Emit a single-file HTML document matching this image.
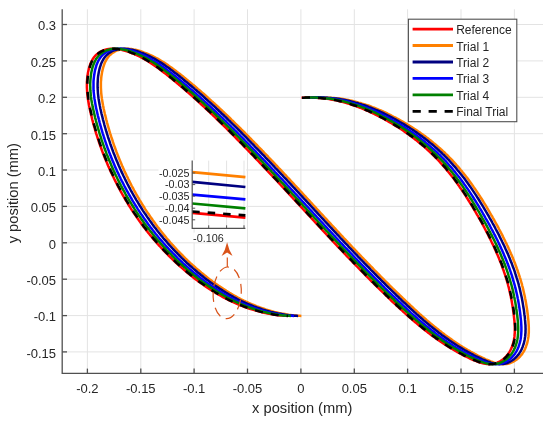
<!DOCTYPE html>
<html><head><meta charset="utf-8"><style>
html,body{margin:0;padding:0;background:#fff;}
svg{display:block;}
text{font-family:"Liberation Sans",Arial,Helvetica,sans-serif;fill:#262626;}
.tl{font-size:13px;}
.lg{font-size:12px;fill:#000;}
.al{font-size:14.67px;}
.it{font-size:10.8px;}
</style></head><body>
<svg width="550" height="422" viewBox="0 0 550 422">
<rect width="550" height="422" fill="#fff"/>
<g stroke="#e3e3e3" stroke-width="1"><line x1="87.4" y1="9.3" x2="87.4" y2="373.4"/><line x1="140.8" y1="9.3" x2="140.8" y2="373.4"/><line x1="194.1" y1="9.3" x2="194.1" y2="373.4"/><line x1="247.5" y1="9.3" x2="247.5" y2="373.4"/><line x1="300.9" y1="9.3" x2="300.9" y2="373.4"/><line x1="354.3" y1="9.3" x2="354.3" y2="373.4"/><line x1="407.6" y1="9.3" x2="407.6" y2="373.4"/><line x1="461.0" y1="9.3" x2="461.0" y2="373.4"/><line x1="514.4" y1="9.3" x2="514.4" y2="373.4"/><line x1="62.2" y1="351.9" x2="543.0" y2="351.9"/><line x1="62.2" y1="315.6" x2="543.0" y2="315.6"/><line x1="62.2" y1="279.2" x2="543.0" y2="279.2"/><line x1="62.2" y1="242.8" x2="543.0" y2="242.8"/><line x1="62.2" y1="206.4" x2="543.0" y2="206.4"/><line x1="62.2" y1="170.0" x2="543.0" y2="170.0"/><line x1="62.2" y1="133.7" x2="543.0" y2="133.7"/><line x1="62.2" y1="97.3" x2="543.0" y2="97.3"/><line x1="62.2" y1="60.9" x2="543.0" y2="60.9"/><line x1="62.2" y1="24.5" x2="543.0" y2="24.5"/></g>
<g><path d="M301.5 97.8 L303.4 97.7 L305.2 97.6 L307.1 97.6 L309.0 97.6 L310.8 97.6 L312.7 97.6 L314.5 97.7 L316.3 97.7 L318.2 97.9 L320.0 98.0 L321.8 98.2 L323.6 98.4 L325.4 98.6 L327.2 98.8 L329.0 99.1 L330.8 99.4 L332.5 99.7 L334.3 100.0 L336.1 100.4 L337.8 100.8 L339.6 101.2 L341.3 101.6 L343.1 102.1 L344.8 102.6 L346.5 103.0 L348.2 103.6 L350.0 104.1 L351.7 104.7 L353.4 105.2 L355.1 105.8 L356.8 106.4 L358.4 107.1 L360.1 107.7 L361.8 108.4 L363.5 109.1 L365.1 109.8 L366.8 110.5 L368.4 111.2 L370.1 112.0 L371.7 112.7 L373.4 113.5 L375.0 114.3 L376.6 115.1 L378.2 116.0 L379.8 116.8 L381.5 117.6 L383.1 118.5 L384.7 119.4 L386.3 120.3 L387.8 121.2 L389.4 122.1 L391.0 123.0 L392.6 123.9 L394.1 124.9 L395.7 125.9 L397.3 126.8 L398.8 127.8 L400.3 128.8 L401.9 129.8 L403.4 130.8 L404.9 131.9 L406.4 132.9 L407.9 134.0 L409.4 135.1 L410.9 136.1 L412.3 137.2 L413.8 138.3 L415.2 139.5 L416.7 140.6 L418.1 141.7 L419.5 142.9 L420.9 144.0 L422.3 145.2 L423.7 146.4 L425.1 147.6 L426.5 148.8 L427.8 150.0 L429.2 151.3 L430.5 152.5 L431.8 153.8 L433.1 155.0 L434.4 156.3 L435.6 157.6 L436.9 158.9 L438.2 160.2 L439.4 161.5 L440.6 162.9 L441.8 164.2 L443.0 165.6 L444.2 166.9 L445.4 168.3 L446.5 169.7 L447.7 171.1 L448.8 172.5 L450.0 173.9 L451.1 175.3 L452.2 176.7 L453.3 178.1 L454.4 179.6 L455.4 181.0 L456.5 182.5 L457.6 184.0 L458.6 185.4 L459.6 186.9 L460.7 188.4 L461.7 189.9 L462.7 191.4 L463.7 192.9 L464.7 194.4 L465.7 195.9 L466.7 197.5 L467.7 199.0 L468.6 200.5 L469.6 202.1 L470.5 203.6 L471.5 205.2 L472.4 206.7 L473.4 208.3 L474.3 209.9 L475.2 211.4 L476.1 213.0 L477.0 214.6 L478.0 216.2 L478.9 217.8 L479.8 219.3 L480.6 220.9 L481.5 222.5 L482.4 224.1 L483.3 225.7 L484.2 227.3 L485.0 229.0 L485.9 230.6 L486.7 232.2 L487.6 233.8 L488.4 235.4 L489.2 237.1 L490.0 238.7 L490.8 240.3 L491.6 242.0 L492.4 243.6 L493.2 245.3 L494.0 246.9 L494.7 248.6 L495.5 250.2 L496.2 251.9 L496.9 253.6 L497.7 255.2 L498.4 256.9 L499.1 258.6 L499.7 260.3 L500.4 262.0 L501.1 263.6 L501.7 265.3 L502.3 267.0 L502.9 268.7 L503.6 270.4 L504.1 272.2 L504.7 273.9 L505.3 275.6 L505.8 277.3 L506.4 279.0 L506.9 280.8 L507.4 282.5 L507.9 284.2 L508.3 286.0 L508.8 287.7 L509.2 289.4 L509.6 291.2 L510.0 293.0 L510.4 294.7 L510.8 296.5 L511.1 298.3 L511.5 300.0 L511.8 301.8 L512.1 303.6 L512.4 305.4 L512.7 307.2 L513.0 309.0 L513.2 310.8 L513.5 312.6 L513.7 314.4 L513.9 316.2 L514.1 318.1 L514.3 319.9 L514.5 321.7 L514.6 323.6 L514.7 325.4 L514.8 327.2 L514.8 329.1 L514.8 330.9 L514.8 332.7 L514.6 334.5 L514.5 336.4 L514.2 338.1 L513.9 339.9 L513.5 341.7 L513.1 343.5 L512.5 345.2 L511.9 346.9 L511.2 348.6 L510.4 350.3 L509.5 351.9 L508.5 353.4 L507.4 354.9 L506.2 356.3 L504.9 357.7 L503.5 358.9 L502.0 360.0 L500.5 361.0 L498.9 361.9 L497.2 362.7 L495.6 363.3 L493.9 363.7 L492.2 364.0 L490.5 364.1 L488.8 364.2 L487.1 364.1 L485.4 363.8 L483.7 363.5 L481.9 363.1 L480.2 362.6 L478.5 362.0 L476.8 361.4 L475.1 360.7 L473.4 360.0 L471.7 359.3 L470.0 358.5 L468.3 357.7 L466.7 356.9 L465.0 356.1 L463.4 355.3 L461.8 354.4 L460.2 353.5 L458.5 352.7 L456.9 351.8 L455.4 350.9 L453.8 350.0 L452.2 349.0 L450.6 348.1 L449.1 347.2 L447.6 346.2 L446.0 345.2 L444.5 344.2 L443.0 343.2 L441.5 342.2 L440.0 341.2 L438.5 340.2 L437.0 339.1 L435.5 338.1 L434.0 337.0 L432.6 336.0 L431.1 334.9 L429.7 333.8 L428.2 332.7 L426.8 331.6 L425.3 330.5 L423.9 329.3 L422.5 328.2 L421.1 327.1 L419.7 325.9 L418.3 324.8 L416.9 323.6 L415.5 322.4 L414.1 321.3 L412.7 320.1 L411.4 318.9 L410.0 317.7 L408.6 316.5 L407.3 315.3 L405.9 314.1 L404.6 312.9 L403.2 311.7 L401.9 310.4 L400.5 309.2 L399.2 308.0 L397.9 306.7 L396.5 305.5 L395.2 304.2 L393.9 303.0 L392.5 301.8 L391.2 300.5 L389.9 299.2 L388.6 298.0 L387.3 296.7 L386.0 295.5 L384.7 294.2 L383.4 292.9 L382.1 291.7 L380.8 290.4 L379.5 289.1 L378.2 287.9 L376.9 286.6 L375.6 285.3 L374.3 284.0 L373.0 282.7 L371.7 281.5 L370.4 280.2 L369.2 278.9 L367.9 277.6 L366.6 276.3 L365.3 275.0 L364.0 273.7 L362.8 272.4 L361.5 271.1 L360.2 269.8 L359.0 268.5 L357.7 267.2 L356.4 265.9 L355.2 264.6 L353.9 263.3 L352.6 262.0 L351.4 260.7 L350.1 259.4 L348.9 258.1 L347.6 256.8 L346.3 255.5 L345.1 254.2 L343.8 252.8 L342.6 251.5 L341.3 250.2 L340.1 248.9 L338.8 247.6 L337.6 246.3 L336.3 244.9 L335.1 243.6 L333.9 242.3 L332.6 241.0 L331.4 239.6 L330.1 238.3 L328.9 237.0 L327.6 235.7 L326.4 234.3 L325.2 233.0 L323.9 231.7 L322.7 230.4 L321.5 229.0 L320.2 227.7 L319.0 226.4 L317.7 225.0 L316.5 223.7 L315.3 222.4 L314.0 221.0 L312.8 219.7 L311.6 218.4 L310.3 217.0 L309.1 215.7 L307.9 214.4 L306.6 213.0 L305.4 211.7 L304.2 210.4 L302.9 209.0 L301.7 207.7 L300.5 206.4 L299.2 205.0 L298.0 203.7 L296.8 202.4 L295.6 201.0 L294.3 199.7 L293.1 198.4 L291.9 197.0 L290.6 195.7 L289.4 194.4 L288.2 193.0 L286.9 191.7 L285.7 190.4 L284.5 189.0 L283.2 187.7 L282.0 186.4 L280.7 185.0 L279.5 183.7 L278.3 182.4 L277.0 181.0 L275.8 179.7 L274.6 178.4 L273.3 177.1 L272.1 175.7 L270.8 174.4 L269.6 173.1 L268.4 171.8 L267.1 170.4 L265.9 169.1 L264.6 167.8 L263.4 166.5 L262.1 165.2 L260.9 163.8 L259.6 162.5 L258.4 161.2 L257.1 159.9 L255.9 158.6 L254.6 157.3 L253.4 155.9 L252.1 154.6 L250.8 153.3 L249.6 152.0 L248.3 150.7 L247.1 149.4 L245.8 148.1 L244.5 146.8 L243.3 145.5 L242.0 144.2 L240.7 142.9 L239.5 141.6 L238.2 140.3 L236.9 139.0 L235.6 137.7 L234.4 136.4 L233.1 135.1 L231.8 133.8 L230.5 132.5 L229.2 131.2 L227.9 130.0 L226.7 128.7 L225.4 127.4 L224.1 126.1 L222.8 124.8 L221.5 123.6 L220.2 122.3 L218.9 121.0 L217.6 119.8 L216.3 118.5 L215.0 117.2 L213.7 116.0 L212.3 114.7 L211.0 113.5 L209.7 112.2 L208.4 111.0 L207.1 109.7 L205.7 108.5 L204.4 107.2 L203.1 106.0 L201.7 104.8 L200.4 103.5 L199.1 102.3 L197.7 101.1 L196.4 99.9 L195.0 98.7 L193.7 97.5 L192.3 96.2 L191.0 95.0 L189.6 93.8 L188.2 92.6 L186.9 91.5 L185.5 90.3 L184.1 89.1 L182.8 87.9 L181.4 86.7 L180.0 85.5 L178.6 84.4 L177.2 83.2 L175.8 82.1 L174.4 80.9 L173.0 79.8 L171.6 78.6 L170.2 77.5 L168.8 76.3 L167.4 75.2 L166.0 74.1 L164.5 73.0 L163.1 71.9 L161.7 70.8 L160.2 69.7 L158.7 68.6 L157.3 67.5 L155.8 66.5 L154.3 65.4 L152.8 64.4 L151.3 63.4 L149.8 62.4 L148.3 61.5 L146.7 60.5 L145.2 59.6 L143.6 58.7 L142.0 57.9 L140.4 57.0 L138.8 56.2 L137.1 55.4 L135.4 54.7 L133.8 53.9 L132.1 53.2 L130.3 52.6 L128.6 51.9 L126.8 51.3 L125.0 50.8 L123.2 50.3 L121.4 49.8 L119.6 49.5 L117.8 49.1 L116.0 48.9 L114.2 48.8 L112.4 48.7 L110.6 48.8 L108.8 49.0 L107.1 49.3 L105.4 49.7 L103.7 50.2 L102.1 50.9 L100.6 51.6 L99.1 52.6 L97.7 53.6 L96.4 54.7 L95.1 55.9 L94.0 57.3 L93.0 58.7 L92.1 60.3 L91.2 61.9 L90.5 63.5 L89.9 65.3 L89.3 67.1 L88.8 68.9 L88.4 70.7 L88.0 72.6 L87.7 74.5 L87.4 76.3 L87.2 78.2 L87.1 80.1 L86.9 81.9 L86.9 83.8 L86.9 85.6 L86.9 87.4 L87.0 89.2 L87.1 91.0 L87.2 92.8 L87.4 94.6 L87.6 96.4 L87.8 98.2 L88.1 100.0 L88.4 101.8 L88.7 103.5 L89.0 105.3 L89.4 107.1 L89.7 108.8 L90.1 110.6 L90.5 112.3 L90.9 114.1 L91.4 115.8 L91.8 117.6 L92.2 119.3 L92.7 121.1 L93.1 122.8 L93.6 124.6 L94.1 126.3 L94.6 128.0 L95.1 129.8 L95.6 131.5 L96.1 133.3 L96.7 135.0 L97.2 136.7 L97.8 138.5 L98.4 140.2 L98.9 141.9 L99.5 143.6 L100.1 145.3 L100.7 147.1 L101.4 148.8 L102.0 150.5 L102.6 152.2 L103.3 153.9 L103.9 155.6 L104.6 157.3 L105.3 159.0 L106.0 160.7 L106.7 162.3 L107.4 164.0 L108.1 165.7 L108.9 167.4 L109.6 169.0 L110.3 170.7 L111.1 172.4 L111.9 174.0 L112.7 175.7 L113.5 177.3 L114.3 179.0 L115.1 180.6 L115.9 182.2 L116.7 183.8 L117.5 185.5 L118.4 187.1 L119.3 188.7 L120.1 190.3 L121.0 191.9 L121.9 193.5 L122.8 195.1 L123.7 196.7 L124.6 198.2 L125.5 199.8 L126.5 201.4 L127.4 202.9 L128.3 204.5 L129.3 206.0 L130.3 207.5 L131.2 209.1 L132.2 210.6 L133.2 212.1 L134.2 213.6 L135.3 215.1 L136.3 216.6 L137.3 218.1 L138.4 219.6 L139.4 221.1 L140.5 222.5 L141.5 224.0 L142.6 225.4 L143.7 226.9 L144.8 228.3 L145.9 229.8 L147.0 231.2 L148.1 232.6 L149.3 234.0 L150.4 235.4 L151.6 236.8 L152.7 238.2 L153.9 239.6 L155.1 240.9 L156.2 242.3 L157.4 243.7 L158.6 245.0 L159.9 246.3 L161.1 247.7 L162.3 249.0 L163.5 250.3 L164.8 251.6 L166.0 252.9 L167.3 254.2 L168.6 255.5 L169.9 256.8 L171.2 258.1 L172.5 259.3 L173.8 260.6 L175.1 261.8 L176.4 263.1 L177.8 264.3 L179.1 265.5 L180.5 266.7 L181.8 267.9 L183.2 269.1 L184.6 270.3 L186.0 271.5 L187.4 272.7 L188.8 273.8 L190.2 275.0 L191.6 276.1 L193.0 277.2 L194.5 278.4 L195.9 279.5 L197.4 280.6 L198.8 281.7 L200.3 282.7 L201.8 283.8 L203.3 284.8 L204.8 285.9 L206.3 286.9 L207.8 287.9 L209.3 288.9 L210.9 289.9 L212.4 290.9 L214.0 291.8 L215.5 292.8 L217.1 293.7 L218.6 294.6 L220.2 295.5 L221.8 296.4 L223.4 297.3 L225.0 298.1 L226.6 299.0 L228.2 299.8 L229.8 300.6 L231.5 301.4 L233.1 302.1 L234.8 302.9 L236.4 303.6 L238.1 304.3 L239.7 305.0 L241.4 305.7 L243.1 306.4 L244.8 307.0 L246.5 307.6 L248.2 308.2 L249.9 308.8 L251.6 309.4 L253.4 309.9 L255.1 310.4 L256.8 310.9 L258.6 311.4 L260.3 311.9 L262.1 312.3 L263.8 312.7 L265.6 313.1 L267.4 313.5 L269.2 313.8 L271.0 314.1 L272.8 314.4 L274.6 314.7 L276.4 314.9 L278.2 315.2 L280.0 315.4 L281.9 315.5 L283.7 315.7 L285.6 315.8 L287.4 315.9" stroke="#ff0000" stroke-width="2.5" fill="none" stroke-linejoin="round"/>
<path d="M315.5 97.8 L317.4 97.7 L319.2 97.6 L321.1 97.6 L323.0 97.6 L324.8 97.6 L326.7 97.6 L328.5 97.7 L330.3 97.7 L332.2 97.9 L334.0 98.0 L335.8 98.2 L337.6 98.4 L339.4 98.6 L341.2 98.8 L343.0 99.1 L344.8 99.4 L346.5 99.7 L348.3 100.0 L350.1 100.4 L351.8 100.8 L353.6 101.2 L355.3 101.6 L357.1 102.1 L358.8 102.6 L360.5 103.0 L362.2 103.6 L364.0 104.1 L365.7 104.7 L367.4 105.2 L369.1 105.8 L370.8 106.4 L372.4 107.1 L374.1 107.7 L375.8 108.4 L377.5 109.1 L379.1 109.8 L380.8 110.5 L382.4 111.2 L384.1 112.0 L385.7 112.7 L387.4 113.5 L389.0 114.3 L390.6 115.1 L392.2 116.0 L393.8 116.8 L395.5 117.6 L397.1 118.5 L398.7 119.4 L400.3 120.3 L401.8 121.2 L403.4 122.1 L405.0 123.0 L406.6 123.9 L408.1 124.9 L409.7 125.9 L411.3 126.8 L412.8 127.8 L414.3 128.8 L415.9 129.8 L417.4 130.8 L418.9 131.9 L420.4 132.9 L421.9 134.0 L423.4 135.1 L424.9 136.1 L426.3 137.2 L427.8 138.3 L429.2 139.5 L430.7 140.6 L432.1 141.7 L433.5 142.9 L434.9 144.0 L436.3 145.2 L437.7 146.4 L439.1 147.6 L440.5 148.8 L441.8 150.0 L443.2 151.3 L444.5 152.5 L445.8 153.8 L447.1 155.0 L448.4 156.3 L449.6 157.6 L450.9 158.9 L452.2 160.2 L453.4 161.5 L454.6 162.9 L455.8 164.2 L457.0 165.6 L458.2 166.9 L459.4 168.3 L460.5 169.7 L461.7 171.1 L462.8 172.5 L464.0 173.9 L465.1 175.3 L466.2 176.7 L467.3 178.1 L468.4 179.6 L469.4 181.0 L470.5 182.5 L471.6 184.0 L472.6 185.4 L473.6 186.9 L474.7 188.4 L475.7 189.9 L476.7 191.4 L477.7 192.9 L478.7 194.4 L479.7 195.9 L480.7 197.5 L481.7 199.0 L482.6 200.5 L483.6 202.1 L484.5 203.6 L485.5 205.2 L486.4 206.7 L487.4 208.3 L488.3 209.9 L489.2 211.4 L490.1 213.0 L491.0 214.6 L492.0 216.2 L492.9 217.8 L493.8 219.3 L494.6 220.9 L495.5 222.5 L496.4 224.1 L497.3 225.7 L498.2 227.3 L499.0 229.0 L499.9 230.6 L500.7 232.2 L501.6 233.8 L502.4 235.4 L503.2 237.1 L504.0 238.7 L504.8 240.3 L505.6 242.0 L506.4 243.6 L507.2 245.3 L508.0 246.9 L508.7 248.6 L509.5 250.2 L510.2 251.9 L510.9 253.6 L511.7 255.2 L512.4 256.9 L513.1 258.6 L513.7 260.3 L514.4 262.0 L515.1 263.6 L515.7 265.3 L516.3 267.0 L516.9 268.7 L517.6 270.4 L518.1 272.2 L518.7 273.9 L519.3 275.6 L519.8 277.3 L520.4 279.0 L520.9 280.8 L521.4 282.5 L521.9 284.2 L522.3 286.0 L522.8 287.7 L523.2 289.4 L523.6 291.2 L524.0 293.0 L524.4 294.7 L524.8 296.5 L525.1 298.3 L525.5 300.0 L525.8 301.8 L526.1 303.6 L526.4 305.4 L526.7 307.2 L527.0 309.0 L527.2 310.8 L527.5 312.6 L527.7 314.4 L527.9 316.2 L528.1 318.1 L528.3 319.9 L528.5 321.7 L528.6 323.6 L528.7 325.4 L528.8 327.2 L528.8 329.1 L528.8 330.9 L528.8 332.7 L528.6 334.5 L528.5 336.4 L528.2 338.1 L527.9 339.9 L527.5 341.7 L527.1 343.5 L526.5 345.2 L525.9 346.9 L525.2 348.6 L524.4 350.3 L523.5 351.9 L522.5 353.4 L521.4 354.9 L520.2 356.3 L518.9 357.7 L517.5 358.9 L516.0 360.0 L514.5 361.0 L512.9 361.9 L511.2 362.7 L509.6 363.3 L507.9 363.7 L506.2 364.0 L504.5 364.1 L502.8 364.2 L501.1 364.1 L499.4 363.8 L497.7 363.5 L495.9 363.1 L494.2 362.6 L492.5 362.0 L490.8 361.4 L489.1 360.7 L487.4 360.0 L485.7 359.3 L484.0 358.5 L482.3 357.7 L480.7 356.9 L479.0 356.1 L477.4 355.3 L475.8 354.4 L474.2 353.5 L472.5 352.7 L470.9 351.8 L469.4 350.9 L467.8 350.0 L466.2 349.0 L464.6 348.1 L463.1 347.2 L461.6 346.2 L460.0 345.2 L458.5 344.2 L457.0 343.2 L455.5 342.2 L454.0 341.2 L452.5 340.2 L451.0 339.1 L449.5 338.1 L448.0 337.0 L446.6 336.0 L445.1 334.9 L443.7 333.8 L442.2 332.7 L440.8 331.6 L439.3 330.5 L437.9 329.3 L436.5 328.2 L435.1 327.1 L433.7 325.9 L432.3 324.8 L430.9 323.6 L429.5 322.4 L428.1 321.3 L426.7 320.1 L425.4 318.9 L424.0 317.7 L422.6 316.5 L421.3 315.3 L419.9 314.1 L418.6 312.9 L417.2 311.7 L415.9 310.4 L414.5 309.2 L413.2 308.0 L411.9 306.7 L410.5 305.5 L409.2 304.2 L407.9 303.0 L406.5 301.8 L405.2 300.5 L403.9 299.2 L402.6 298.0 L401.3 296.7 L400.0 295.5 L398.7 294.2 L397.4 292.9 L396.1 291.7 L394.8 290.4 L393.5 289.1 L392.2 287.9 L390.9 286.6 L389.6 285.3 L388.3 284.0 L387.0 282.7 L385.7 281.5 L384.4 280.2 L383.2 278.9 L381.9 277.6 L380.6 276.3 L379.3 275.0 L378.0 273.7 L376.8 272.4 L375.5 271.1 L374.2 269.8 L373.0 268.5 L371.7 267.2 L370.4 265.9 L369.2 264.6 L367.9 263.3 L366.6 262.0 L365.4 260.7 L364.1 259.4 L362.9 258.1 L361.6 256.8 L360.3 255.5 L359.1 254.2 L357.8 252.8 L356.6 251.5 L355.3 250.2 L354.1 248.9 L352.8 247.6 L351.6 246.3 L350.3 244.9 L349.1 243.6 L347.9 242.3 L346.6 241.0 L345.4 239.6 L344.1 238.3 L342.9 237.0 L341.6 235.7 L340.4 234.3 L339.2 233.0 L337.9 231.7 L336.7 230.4 L335.5 229.0 L334.2 227.7 L333.0 226.4 L331.7 225.0 L330.5 223.7 L329.3 222.4 L328.0 221.0 L326.8 219.7 L325.6 218.4 L324.3 217.0 L323.1 215.7 L321.9 214.4 L320.6 213.0 L319.4 211.7 L318.2 210.4 L316.9 209.0 L315.7 207.7 L314.5 206.4 L313.2 205.0 L312.0 203.7 L310.8 202.4 L309.6 201.0 L308.3 199.7 L307.1 198.4 L305.9 197.0 L304.6 195.7 L303.4 194.4 L302.2 193.0 L300.9 191.7 L299.7 190.4 L298.5 189.0 L297.2 187.7 L296.0 186.4 L294.7 185.0 L293.5 183.7 L292.3 182.4 L291.0 181.0 L289.8 179.7 L288.6 178.4 L287.3 177.1 L286.1 175.7 L284.8 174.4 L283.6 173.1 L282.4 171.8 L281.1 170.4 L279.9 169.1 L278.6 167.8 L277.4 166.5 L276.1 165.2 L274.9 163.8 L273.6 162.5 L272.4 161.2 L271.1 159.9 L269.9 158.6 L268.6 157.3 L267.4 155.9 L266.1 154.6 L264.8 153.3 L263.6 152.0 L262.3 150.7 L261.1 149.4 L259.8 148.1 L258.5 146.8 L257.3 145.5 L256.0 144.2 L254.7 142.9 L253.5 141.6 L252.2 140.3 L250.9 139.0 L249.6 137.7 L248.4 136.4 L247.1 135.1 L245.8 133.8 L244.5 132.5 L243.2 131.2 L241.9 130.0 L240.7 128.7 L239.4 127.4 L238.1 126.1 L236.8 124.8 L235.5 123.6 L234.2 122.3 L232.9 121.0 L231.6 119.8 L230.3 118.5 L229.0 117.2 L227.7 116.0 L226.3 114.7 L225.0 113.5 L223.7 112.2 L222.4 111.0 L221.1 109.7 L219.7 108.5 L218.4 107.2 L217.1 106.0 L215.7 104.8 L214.4 103.5 L213.1 102.3 L211.7 101.1 L210.4 99.9 L209.0 98.7 L207.7 97.5 L206.3 96.2 L205.0 95.0 L203.6 93.8 L202.2 92.6 L200.9 91.5 L199.5 90.3 L198.1 89.1 L196.8 87.9 L195.4 86.7 L194.0 85.5 L192.6 84.4 L191.2 83.2 L189.8 82.1 L188.4 80.9 L187.0 79.8 L185.6 78.6 L184.2 77.5 L182.8 76.3 L181.4 75.2 L180.0 74.1 L178.5 73.0 L177.1 71.9 L175.7 70.8 L174.2 69.7 L172.7 68.6 L171.3 67.5 L169.8 66.5 L168.3 65.4 L166.8 64.4 L165.3 63.4 L163.8 62.4 L162.3 61.5 L160.7 60.5 L159.2 59.6 L157.6 58.7 L156.0 57.9 L154.4 57.0 L152.8 56.2 L151.1 55.4 L149.4 54.7 L147.8 53.9 L146.1 53.2 L144.3 52.6 L142.6 51.9 L140.8 51.3 L139.0 50.8 L137.2 50.3 L135.4 49.8 L133.6 49.5 L131.8 49.1 L130.0 48.9 L128.2 48.8 L126.4 48.7 L124.6 48.8 L122.8 49.0 L121.1 49.3 L119.4 49.7 L117.7 50.2 L116.1 50.9 L114.6 51.6 L113.1 52.6 L111.7 53.6 L110.4 54.7 L109.1 55.9 L108.0 57.3 L107.0 58.7 L106.1 60.3 L105.2 61.9 L104.5 63.5 L103.9 65.3 L103.3 67.1 L102.8 68.9 L102.4 70.7 L102.0 72.6 L101.7 74.5 L101.4 76.3 L101.2 78.2 L101.1 80.1 L100.9 81.9 L100.9 83.8 L100.9 85.6 L100.9 87.4 L101.0 89.2 L101.1 91.0 L101.2 92.8 L101.4 94.6 L101.6 96.4 L101.8 98.2 L102.1 100.0 L102.4 101.8 L102.7 103.5 L103.0 105.3 L103.4 107.1 L103.7 108.8 L104.1 110.6 L104.5 112.3 L104.9 114.1 L105.4 115.8 L105.8 117.6 L106.2 119.3 L106.7 121.1 L107.1 122.8 L107.6 124.6 L108.1 126.3 L108.6 128.0 L109.1 129.8 L109.6 131.5 L110.1 133.3 L110.7 135.0 L111.2 136.7 L111.8 138.5 L112.4 140.2 L112.9 141.9 L113.5 143.6 L114.1 145.3 L114.7 147.1 L115.4 148.8 L116.0 150.5 L116.6 152.2 L117.3 153.9 L117.9 155.6 L118.6 157.3 L119.3 159.0 L120.0 160.7 L120.7 162.3 L121.4 164.0 L122.1 165.7 L122.9 167.4 L123.6 169.0 L124.3 170.7 L125.1 172.4 L125.9 174.0 L126.7 175.7 L127.5 177.3 L128.3 179.0 L129.1 180.6 L129.9 182.2 L130.7 183.8 L131.5 185.5 L132.4 187.1 L133.3 188.7 L134.1 190.3 L135.0 191.9 L135.9 193.5 L136.8 195.1 L137.7 196.7 L138.6 198.2 L139.5 199.8 L140.5 201.4 L141.4 202.9 L142.3 204.5 L143.3 206.0 L144.3 207.5 L145.2 209.1 L146.2 210.6 L147.2 212.1 L148.2 213.6 L149.3 215.1 L150.3 216.6 L151.3 218.1 L152.4 219.6 L153.4 221.1 L154.5 222.5 L155.5 224.0 L156.6 225.4 L157.7 226.9 L158.8 228.3 L159.9 229.8 L161.0 231.2 L162.1 232.6 L163.3 234.0 L164.4 235.4 L165.6 236.8 L166.7 238.2 L167.9 239.6 L169.1 240.9 L170.2 242.3 L171.4 243.7 L172.6 245.0 L173.9 246.3 L175.1 247.7 L176.3 249.0 L177.5 250.3 L178.8 251.6 L180.0 252.9 L181.3 254.2 L182.6 255.5 L183.9 256.8 L185.2 258.1 L186.5 259.3 L187.8 260.6 L189.1 261.8 L190.4 263.1 L191.8 264.3 L193.1 265.5 L194.5 266.7 L195.8 267.9 L197.2 269.1 L198.6 270.3 L200.0 271.5 L201.4 272.7 L202.8 273.8 L204.2 275.0 L205.6 276.1 L207.0 277.2 L208.5 278.4 L209.9 279.5 L211.4 280.6 L212.8 281.7 L214.3 282.7 L215.8 283.8 L217.3 284.8 L218.8 285.9 L220.3 286.9 L221.8 287.9 L223.3 288.9 L224.9 289.9 L226.4 290.9 L228.0 291.8 L229.5 292.8 L231.1 293.7 L232.6 294.6 L234.2 295.5 L235.8 296.4 L237.4 297.3 L239.0 298.1 L240.6 299.0 L242.2 299.8 L243.8 300.6 L245.5 301.4 L247.1 302.1 L248.8 302.9 L250.4 303.6 L252.1 304.3 L253.7 305.0 L255.4 305.7 L257.1 306.4 L258.8 307.0 L260.5 307.6 L262.2 308.2 L263.9 308.8 L265.6 309.4 L267.4 309.9 L269.1 310.4 L270.8 310.9 L272.6 311.4 L274.3 311.9 L276.1 312.3 L277.8 312.7 L279.6 313.1 L281.4 313.5 L283.2 313.8 L285.0 314.1 L286.8 314.4 L288.6 314.7 L290.4 314.9 L292.2 315.2 L294.0 315.4 L295.9 315.5 L297.7 315.7 L299.6 315.8 L301.4 315.9" stroke="#ff8000" stroke-width="2.5" fill="none" stroke-linejoin="round"/>
<path d="M312.2 97.8 L314.1 97.7 L316.0 97.6 L317.8 97.6 L319.7 97.6 L321.5 97.6 L323.4 97.6 L325.2 97.7 L327.1 97.7 L328.9 97.9 L330.7 98.0 L332.5 98.2 L334.3 98.4 L336.1 98.6 L337.9 98.8 L339.7 99.1 L341.5 99.4 L343.3 99.7 L345.0 100.0 L346.8 100.4 L348.5 100.8 L350.3 101.2 L352.0 101.6 L353.8 102.1 L355.5 102.6 L357.2 103.0 L359.0 103.6 L360.7 104.1 L362.4 104.7 L364.1 105.2 L365.8 105.8 L367.5 106.4 L369.1 107.1 L370.8 107.7 L372.5 108.4 L374.2 109.1 L375.8 109.8 L377.5 110.5 L379.1 111.2 L380.8 112.0 L382.4 112.7 L384.1 113.5 L385.7 114.3 L387.3 115.1 L388.9 116.0 L390.6 116.8 L392.2 117.6 L393.8 118.5 L395.4 119.4 L397.0 120.3 L398.6 121.2 L400.1 122.1 L401.7 123.0 L403.3 123.9 L404.9 124.9 L406.4 125.9 L408.0 126.8 L409.5 127.8 L411.0 128.8 L412.6 129.8 L414.1 130.8 L415.6 131.9 L417.1 132.9 L418.6 134.0 L420.1 135.1 L421.6 136.1 L423.0 137.2 L424.5 138.3 L426.0 139.5 L427.4 140.6 L428.8 141.7 L430.2 142.9 L431.7 144.0 L433.1 145.2 L434.4 146.4 L435.8 147.6 L437.2 148.8 L438.5 150.0 L439.9 151.3 L441.2 152.5 L442.5 153.8 L443.8 155.0 L445.1 156.3 L446.4 157.6 L447.6 158.9 L448.9 160.2 L450.1 161.5 L451.3 162.9 L452.5 164.2 L453.7 165.6 L454.9 166.9 L456.1 168.3 L457.2 169.7 L458.4 171.1 L459.5 172.5 L460.7 173.9 L461.8 175.3 L462.9 176.7 L464.0 178.1 L465.1 179.6 L466.1 181.0 L467.2 182.5 L468.3 184.0 L469.3 185.4 L470.4 186.9 L471.4 188.4 L472.4 189.9 L473.4 191.4 L474.4 192.9 L475.4 194.4 L476.4 195.9 L477.4 197.5 L478.4 199.0 L479.3 200.5 L480.3 202.1 L481.2 203.6 L482.2 205.2 L483.1 206.7 L484.1 208.3 L485.0 209.9 L485.9 211.4 L486.8 213.0 L487.8 214.6 L488.7 216.2 L489.6 217.8 L490.5 219.3 L491.4 220.9 L492.2 222.5 L493.1 224.1 L494.0 225.7 L494.9 227.3 L495.7 229.0 L496.6 230.6 L497.4 232.2 L498.3 233.8 L499.1 235.4 L499.9 237.1 L500.7 238.7 L501.5 240.3 L502.3 242.0 L503.1 243.6 L503.9 245.3 L504.7 246.9 L505.4 248.6 L506.2 250.2 L506.9 251.9 L507.7 253.6 L508.4 255.2 L509.1 256.9 L509.8 258.6 L510.4 260.3 L511.1 262.0 L511.8 263.6 L512.4 265.3 L513.0 267.0 L513.7 268.7 L514.3 270.4 L514.9 272.2 L515.4 273.9 L516.0 275.6 L516.5 277.3 L517.1 279.0 L517.6 280.8 L518.1 282.5 L518.6 284.2 L519.0 286.0 L519.5 287.7 L519.9 289.4 L520.3 291.2 L520.7 293.0 L521.1 294.7 L521.5 296.5 L521.9 298.3 L522.2 300.0 L522.5 301.8 L522.8 303.6 L523.1 305.4 L523.4 307.2 L523.7 309.0 L524.0 310.8 L524.2 312.6 L524.4 314.4 L524.7 316.2 L524.9 318.1 L525.0 319.9 L525.2 321.7 L525.3 323.6 L525.5 325.4 L525.5 327.2 L525.6 329.1 L525.5 330.9 L525.5 332.7 L525.3 334.5 L525.2 336.4 L524.9 338.1 L524.6 339.9 L524.2 341.7 L523.8 343.5 L523.2 345.2 L522.6 346.9 L521.9 348.6 L521.1 350.3 L520.2 351.9 L519.2 353.4 L518.1 354.9 L516.9 356.3 L515.6 357.7 L514.2 358.9 L512.7 360.0 L511.2 361.0 L509.6 361.9 L508.0 362.7 L506.3 363.3 L504.6 363.7 L502.9 364.0 L501.2 364.1 L499.5 364.2 L497.8 364.1 L496.1 363.8 L494.4 363.5 L492.6 363.1 L490.9 362.6 L489.2 362.0 L487.5 361.4 L485.8 360.7 L484.1 360.0 L482.4 359.3 L480.7 358.5 L479.1 357.7 L477.4 356.9 L475.7 356.1 L474.1 355.3 L472.5 354.4 L470.9 353.5 L469.3 352.7 L467.7 351.8 L466.1 350.9 L464.5 350.0 L462.9 349.0 L461.4 348.1 L459.8 347.2 L458.3 346.2 L456.7 345.2 L455.2 344.2 L453.7 343.2 L452.2 342.2 L450.7 341.2 L449.2 340.2 L447.7 339.1 L446.2 338.1 L444.7 337.0 L443.3 336.0 L441.8 334.9 L440.4 333.8 L438.9 332.7 L437.5 331.6 L436.1 330.5 L434.6 329.3 L433.2 328.2 L431.8 327.1 L430.4 325.9 L429.0 324.8 L427.6 323.6 L426.2 322.4 L424.8 321.3 L423.4 320.1 L422.1 318.9 L420.7 317.7 L419.3 316.5 L418.0 315.3 L416.6 314.1 L415.3 312.9 L413.9 311.7 L412.6 310.4 L411.2 309.2 L409.9 308.0 L408.6 306.7 L407.2 305.5 L405.9 304.2 L404.6 303.0 L403.3 301.8 L401.9 300.5 L400.6 299.2 L399.3 298.0 L398.0 296.7 L396.7 295.5 L395.4 294.2 L394.1 292.9 L392.8 291.7 L391.5 290.4 L390.2 289.1 L388.9 287.9 L387.6 286.6 L386.3 285.3 L385.0 284.0 L383.7 282.7 L382.4 281.5 L381.1 280.2 L379.9 278.9 L378.6 277.6 L377.3 276.3 L376.0 275.0 L374.7 273.7 L373.5 272.4 L372.2 271.1 L370.9 269.8 L369.7 268.5 L368.4 267.2 L367.1 265.9 L365.9 264.6 L364.6 263.3 L363.3 262.0 L362.1 260.7 L360.8 259.4 L359.6 258.1 L358.3 256.8 L357.1 255.5 L355.8 254.2 L354.5 252.8 L353.3 251.5 L352.0 250.2 L350.8 248.9 L349.5 247.6 L348.3 246.3 L347.1 244.9 L345.8 243.6 L344.6 242.3 L343.3 241.0 L342.1 239.6 L340.8 238.3 L339.6 237.0 L338.4 235.7 L337.1 234.3 L335.9 233.0 L334.6 231.7 L333.4 230.4 L332.2 229.0 L330.9 227.7 L329.7 226.4 L328.5 225.0 L327.2 223.7 L326.0 222.4 L324.7 221.0 L323.5 219.7 L322.3 218.4 L321.0 217.0 L319.8 215.7 L318.6 214.4 L317.4 213.0 L316.1 211.7 L314.9 210.4 L313.7 209.0 L312.4 207.7 L311.2 206.4 L310.0 205.0 L308.7 203.7 L307.5 202.4 L306.3 201.0 L305.0 199.7 L303.8 198.4 L302.6 197.0 L301.3 195.7 L300.1 194.4 L298.9 193.0 L297.6 191.7 L296.4 190.4 L295.2 189.0 L293.9 187.7 L292.7 186.4 L291.5 185.0 L290.2 183.7 L289.0 182.4 L287.7 181.0 L286.5 179.7 L285.3 178.4 L284.0 177.1 L282.8 175.7 L281.5 174.4 L280.3 173.1 L279.1 171.8 L277.8 170.4 L276.6 169.1 L275.3 167.8 L274.1 166.5 L272.8 165.2 L271.6 163.8 L270.3 162.5 L269.1 161.2 L267.8 159.9 L266.6 158.6 L265.3 157.3 L264.1 155.9 L262.8 154.6 L261.6 153.3 L260.3 152.0 L259.0 150.7 L257.8 149.4 L256.5 148.1 L255.2 146.8 L254.0 145.5 L252.7 144.2 L251.4 142.9 L250.2 141.6 L248.9 140.3 L247.6 139.0 L246.4 137.7 L245.1 136.4 L243.8 135.1 L242.5 133.8 L241.2 132.5 L239.9 131.2 L238.7 130.0 L237.4 128.7 L236.1 127.4 L234.8 126.1 L233.5 124.8 L232.2 123.6 L230.9 122.3 L229.6 121.0 L228.3 119.8 L227.0 118.5 L225.7 117.2 L224.4 116.0 L223.1 114.7 L221.7 113.5 L220.4 112.2 L219.1 111.0 L217.8 109.7 L216.4 108.5 L215.1 107.2 L213.8 106.0 L212.5 104.8 L211.1 103.5 L209.8 102.3 L208.4 101.1 L207.1 99.9 L205.7 98.7 L204.4 97.5 L203.0 96.2 L201.7 95.0 L200.3 93.8 L199.0 92.6 L197.6 91.5 L196.2 90.3 L194.8 89.1 L193.5 87.9 L192.1 86.7 L190.7 85.5 L189.3 84.4 L187.9 83.2 L186.5 82.1 L185.1 80.9 L183.7 79.8 L182.3 78.6 L180.9 77.5 L179.5 76.3 L178.1 75.2 L176.7 74.1 L175.2 73.0 L173.8 71.9 L172.4 70.8 L170.9 69.7 L169.5 68.6 L168.0 67.5 L166.5 66.5 L165.0 65.4 L163.5 64.4 L162.0 63.4 L160.5 62.4 L159.0 61.5 L157.4 60.5 L155.9 59.6 L154.3 58.7 L152.7 57.9 L151.1 57.0 L149.5 56.2 L147.8 55.4 L146.2 54.7 L144.5 53.9 L142.8 53.2 L141.0 52.6 L139.3 51.9 L137.5 51.3 L135.7 50.8 L133.9 50.3 L132.1 49.8 L130.3 49.5 L128.5 49.1 L126.7 48.9 L124.9 48.8 L123.1 48.7 L121.3 48.8 L119.5 49.0 L117.8 49.3 L116.1 49.7 L114.5 50.2 L112.8 50.9 L111.3 51.6 L109.8 52.6 L108.4 53.6 L107.1 54.7 L105.8 55.9 L104.7 57.3 L103.7 58.7 L102.8 60.3 L102.0 61.9 L101.2 63.5 L100.6 65.3 L100.0 67.1 L99.5 68.9 L99.1 70.7 L98.7 72.6 L98.4 74.5 L98.1 76.3 L97.9 78.2 L97.8 80.1 L97.7 81.9 L97.6 83.8 L97.6 85.6 L97.6 87.4 L97.7 89.2 L97.8 91.0 L97.9 92.8 L98.1 94.6 L98.3 96.4 L98.5 98.2 L98.8 100.0 L99.1 101.8 L99.4 103.5 L99.7 105.3 L100.1 107.1 L100.4 108.8 L100.8 110.6 L101.2 112.3 L101.6 114.1 L102.1 115.8 L102.5 117.6 L102.9 119.3 L103.4 121.1 L103.9 122.8 L104.3 124.6 L104.8 126.3 L105.3 128.0 L105.8 129.8 L106.3 131.5 L106.9 133.3 L107.4 135.0 L107.9 136.7 L108.5 138.5 L109.1 140.2 L109.7 141.9 L110.2 143.6 L110.8 145.3 L111.5 147.1 L112.1 148.8 L112.7 150.5 L113.3 152.2 L114.0 153.9 L114.7 155.6 L115.3 157.3 L116.0 159.0 L116.7 160.7 L117.4 162.3 L118.1 164.0 L118.8 165.7 L119.6 167.4 L120.3 169.0 L121.1 170.7 L121.8 172.4 L122.6 174.0 L123.4 175.7 L124.2 177.3 L125.0 179.0 L125.8 180.6 L126.6 182.2 L127.4 183.8 L128.3 185.5 L129.1 187.1 L130.0 188.7 L130.8 190.3 L131.7 191.9 L132.6 193.5 L133.5 195.1 L134.4 196.7 L135.3 198.2 L136.2 199.8 L137.2 201.4 L138.1 202.9 L139.1 204.5 L140.0 206.0 L141.0 207.5 L142.0 209.1 L142.9 210.6 L143.9 212.1 L144.9 213.6 L146.0 215.1 L147.0 216.6 L148.0 218.1 L149.1 219.6 L150.1 221.1 L151.2 222.5 L152.2 224.0 L153.3 225.4 L154.4 226.9 L155.5 228.3 L156.6 229.8 L157.7 231.2 L158.8 232.6 L160.0 234.0 L161.1 235.4 L162.3 236.8 L163.4 238.2 L164.6 239.6 L165.8 240.9 L167.0 242.3 L168.1 243.7 L169.4 245.0 L170.6 246.3 L171.8 247.7 L173.0 249.0 L174.3 250.3 L175.5 251.6 L176.8 252.9 L178.0 254.2 L179.3 255.5 L180.6 256.8 L181.9 258.1 L183.2 259.3 L184.5 260.6 L185.8 261.8 L187.1 263.1 L188.5 264.3 L189.8 265.5 L191.2 266.7 L192.5 267.9 L193.9 269.1 L195.3 270.3 L196.7 271.5 L198.1 272.7 L199.5 273.8 L200.9 275.0 L202.3 276.1 L203.7 277.2 L205.2 278.4 L206.6 279.5 L208.1 280.6 L209.6 281.7 L211.0 282.7 L212.5 283.8 L214.0 284.8 L215.5 285.9 L217.0 286.9 L218.5 287.9 L220.0 288.9 L221.6 289.9 L223.1 290.9 L224.7 291.8 L226.2 292.8 L227.8 293.7 L229.3 294.6 L230.9 295.5 L232.5 296.4 L234.1 297.3 L235.7 298.1 L237.3 299.0 L238.9 299.8 L240.6 300.6 L242.2 301.4 L243.8 302.1 L245.5 302.9 L247.1 303.6 L248.8 304.3 L250.5 305.0 L252.1 305.7 L253.8 306.4 L255.5 307.0 L257.2 307.6 L258.9 308.2 L260.6 308.8 L262.3 309.4 L264.1 309.9 L265.8 310.4 L267.5 310.9 L269.3 311.4 L271.0 311.9 L272.8 312.3 L274.6 312.7 L276.3 313.1 L278.1 313.5 L279.9 313.8 L281.7 314.1 L283.5 314.4 L285.3 314.7 L287.1 314.9 L288.9 315.2 L290.8 315.4 L292.6 315.5 L294.4 315.7 L296.3 315.8 L298.1 315.9" stroke="#000080" stroke-width="2.5" fill="none" stroke-linejoin="round"/>
<path d="M308.1 97.8 L309.9 97.7 L311.8 97.6 L313.7 97.6 L315.6 97.6 L317.4 97.6 L319.3 97.6 L321.1 97.7 L322.9 97.7 L324.8 97.9 L326.6 98.0 L328.4 98.2 L330.2 98.4 L332.0 98.6 L333.8 98.8 L335.6 99.1 L337.4 99.4 L339.1 99.7 L340.9 100.0 L342.7 100.4 L344.4 100.8 L346.2 101.2 L347.9 101.6 L349.6 102.1 L351.4 102.6 L353.1 103.0 L354.8 103.6 L356.5 104.1 L358.2 104.7 L359.9 105.2 L361.6 105.8 L363.3 106.4 L365.0 107.1 L366.7 107.7 L368.4 108.4 L370.0 109.1 L371.7 109.8 L373.4 110.5 L375.0 111.2 L376.7 112.0 L378.3 112.7 L379.9 113.5 L381.6 114.3 L383.2 115.1 L384.8 116.0 L386.4 116.8 L388.0 117.6 L389.6 118.5 L391.2 119.4 L392.8 120.3 L394.4 121.2 L396.0 122.1 L397.6 123.0 L399.2 123.9 L400.7 124.9 L402.3 125.9 L403.8 126.8 L405.4 127.8 L406.9 128.8 L408.4 129.8 L410.0 130.8 L411.5 131.9 L413.0 132.9 L414.5 134.0 L416.0 135.1 L417.4 136.1 L418.9 137.2 L420.4 138.3 L421.8 139.5 L423.3 140.6 L424.7 141.7 L426.1 142.9 L427.5 144.0 L428.9 145.2 L430.3 146.4 L431.7 147.6 L433.0 148.8 L434.4 150.0 L435.7 151.3 L437.1 152.5 L438.4 153.8 L439.7 155.0 L441.0 156.3 L442.2 157.6 L443.5 158.9 L444.7 160.2 L446.0 161.5 L447.2 162.9 L448.4 164.2 L449.6 165.6 L450.8 166.9 L452.0 168.3 L453.1 169.7 L454.3 171.1 L455.4 172.5 L456.5 173.9 L457.6 175.3 L458.8 176.7 L459.9 178.1 L460.9 179.6 L462.0 181.0 L463.1 182.5 L464.1 184.0 L465.2 185.4 L466.2 186.9 L467.3 188.4 L468.3 189.9 L469.3 191.4 L470.3 192.9 L471.3 194.4 L472.3 195.9 L473.3 197.5 L474.2 199.0 L475.2 200.5 L476.2 202.1 L477.1 203.6 L478.1 205.2 L479.0 206.7 L479.9 208.3 L480.9 209.9 L481.8 211.4 L482.7 213.0 L483.6 214.6 L484.5 216.2 L485.4 217.8 L486.3 219.3 L487.2 220.9 L488.1 222.5 L489.0 224.1 L489.9 225.7 L490.7 227.3 L491.6 229.0 L492.5 230.6 L493.3 232.2 L494.1 233.8 L495.0 235.4 L495.8 237.1 L496.6 238.7 L497.4 240.3 L498.2 242.0 L499.0 243.6 L499.8 245.3 L500.5 246.9 L501.3 248.6 L502.1 250.2 L502.8 251.9 L503.5 253.6 L504.2 255.2 L504.9 256.9 L505.6 258.6 L506.3 260.3 L507.0 262.0 L507.6 263.6 L508.3 265.3 L508.9 267.0 L509.5 268.7 L510.1 270.4 L510.7 272.2 L511.3 273.9 L511.9 275.6 L512.4 277.3 L512.9 279.0 L513.4 280.8 L513.9 282.5 L514.4 284.2 L514.9 286.0 L515.3 287.7 L515.8 289.4 L516.2 291.2 L516.6 293.0 L517.0 294.7 L517.4 296.5 L517.7 298.3 L518.1 300.0 L518.4 301.8 L518.7 303.6 L519.0 305.4 L519.3 307.2 L519.6 309.0 L519.8 310.8 L520.1 312.6 L520.3 314.4 L520.5 316.2 L520.7 318.1 L520.9 319.9 L521.1 321.7 L521.2 323.6 L521.3 325.4 L521.4 327.2 L521.4 329.1 L521.4 330.9 L521.3 332.7 L521.2 334.5 L521.0 336.4 L520.8 338.1 L520.5 339.9 L520.1 341.7 L519.6 343.5 L519.1 345.2 L518.5 346.9 L517.8 348.6 L517.0 350.3 L516.1 351.9 L515.1 353.4 L514.0 354.9 L512.8 356.3 L511.5 357.7 L510.1 358.9 L508.6 360.0 L507.1 361.0 L505.5 361.9 L503.8 362.7 L502.2 363.3 L500.5 363.7 L498.8 364.0 L497.1 364.1 L495.4 364.2 L493.7 364.1 L491.9 363.8 L490.2 363.5 L488.5 363.1 L486.8 362.6 L485.1 362.0 L483.4 361.4 L481.7 360.7 L480.0 360.0 L478.3 359.3 L476.6 358.5 L474.9 357.7 L473.3 356.9 L471.6 356.1 L470.0 355.3 L468.4 354.4 L466.7 353.5 L465.1 352.7 L463.5 351.8 L461.9 350.9 L460.4 350.0 L458.8 349.0 L457.2 348.1 L455.7 347.2 L454.1 346.2 L452.6 345.2 L451.1 344.2 L449.6 343.2 L448.0 342.2 L446.5 341.2 L445.0 340.2 L443.6 339.1 L442.1 338.1 L440.6 337.0 L439.1 336.0 L437.7 334.9 L436.2 333.8 L434.8 332.7 L433.4 331.6 L431.9 330.5 L430.5 329.3 L429.1 328.2 L427.7 327.1 L426.3 325.9 L424.9 324.8 L423.5 323.6 L422.1 322.4 L420.7 321.3 L419.3 320.1 L417.9 318.9 L416.6 317.7 L415.2 316.5 L413.8 315.3 L412.5 314.1 L411.1 312.9 L409.8 311.7 L408.4 310.4 L407.1 309.2 L405.8 308.0 L404.4 306.7 L403.1 305.5 L401.8 304.2 L400.5 303.0 L399.1 301.8 L397.8 300.5 L396.5 299.2 L395.2 298.0 L393.9 296.7 L392.6 295.5 L391.3 294.2 L389.9 292.9 L388.6 291.7 L387.3 290.4 L386.0 289.1 L384.7 287.9 L383.5 286.6 L382.2 285.3 L380.9 284.0 L379.6 282.7 L378.3 281.5 L377.0 280.2 L375.7 278.9 L374.4 277.6 L373.2 276.3 L371.9 275.0 L370.6 273.7 L369.3 272.4 L368.1 271.1 L366.8 269.8 L365.5 268.5 L364.3 267.2 L363.0 265.9 L361.7 264.6 L360.5 263.3 L359.2 262.0 L357.9 260.7 L356.7 259.4 L355.4 258.1 L354.2 256.8 L352.9 255.5 L351.7 254.2 L350.4 252.8 L349.2 251.5 L347.9 250.2 L346.7 248.9 L345.4 247.6 L344.2 246.3 L342.9 244.9 L341.7 243.6 L340.4 242.3 L339.2 241.0 L337.9 239.6 L336.7 238.3 L335.5 237.0 L334.2 235.7 L333.0 234.3 L331.7 233.0 L330.5 231.7 L329.3 230.4 L328.0 229.0 L326.8 227.7 L325.6 226.4 L324.3 225.0 L323.1 223.7 L321.9 222.4 L320.6 221.0 L319.4 219.7 L318.2 218.4 L316.9 217.0 L315.7 215.7 L314.5 214.4 L313.2 213.0 L312.0 211.7 L310.8 210.4 L309.5 209.0 L308.3 207.7 L307.1 206.4 L305.8 205.0 L304.6 203.7 L303.4 202.4 L302.1 201.0 L300.9 199.7 L299.7 198.4 L298.4 197.0 L297.2 195.7 L296.0 194.4 L294.7 193.0 L293.5 191.7 L292.3 190.4 L291.0 189.0 L289.8 187.7 L288.6 186.4 L287.3 185.0 L286.1 183.7 L284.9 182.4 L283.6 181.0 L282.4 179.7 L281.1 178.4 L279.9 177.1 L278.7 175.7 L277.4 174.4 L276.2 173.1 L274.9 171.8 L273.7 170.4 L272.4 169.1 L271.2 167.8 L270.0 166.5 L268.7 165.2 L267.5 163.8 L266.2 162.5 L265.0 161.2 L263.7 159.9 L262.5 158.6 L261.2 157.3 L259.9 155.9 L258.7 154.6 L257.4 153.3 L256.2 152.0 L254.9 150.7 L253.6 149.4 L252.4 148.1 L251.1 146.8 L249.9 145.5 L248.6 144.2 L247.3 142.9 L246.0 141.6 L244.8 140.3 L243.5 139.0 L242.2 137.7 L240.9 136.4 L239.7 135.1 L238.4 133.8 L237.1 132.5 L235.8 131.2 L234.5 130.0 L233.2 128.7 L231.9 127.4 L230.7 126.1 L229.4 124.8 L228.1 123.6 L226.8 122.3 L225.5 121.0 L224.2 119.8 L222.9 118.5 L221.5 117.2 L220.2 116.0 L218.9 114.7 L217.6 113.5 L216.3 112.2 L215.0 111.0 L213.6 109.7 L212.3 108.5 L211.0 107.2 L209.7 106.0 L208.3 104.8 L207.0 103.5 L205.6 102.3 L204.3 101.1 L203.0 99.9 L201.6 98.7 L200.3 97.5 L198.9 96.2 L197.5 95.0 L196.2 93.8 L194.8 92.6 L193.5 91.5 L192.1 90.3 L190.7 89.1 L189.3 87.9 L188.0 86.7 L186.6 85.5 L185.2 84.4 L183.8 83.2 L182.4 82.1 L181.0 80.9 L179.6 79.8 L178.2 78.6 L176.8 77.5 L175.4 76.3 L174.0 75.2 L172.5 74.1 L171.1 73.0 L169.7 71.9 L168.2 70.8 L166.8 69.7 L165.3 68.6 L163.9 67.5 L162.4 66.5 L160.9 65.4 L159.4 64.4 L157.9 63.4 L156.4 62.4 L154.8 61.5 L153.3 60.5 L151.7 59.6 L150.2 58.7 L148.6 57.9 L147.0 57.0 L145.3 56.2 L143.7 55.4 L142.0 54.7 L140.3 53.9 L138.6 53.2 L136.9 52.6 L135.2 51.9 L133.4 51.3 L131.6 50.8 L129.8 50.3 L128.0 49.8 L126.2 49.5 L124.4 49.1 L122.5 48.9 L120.7 48.8 L118.9 48.7 L117.2 48.8 L115.4 49.0 L113.7 49.3 L112.0 49.7 L110.3 50.2 L108.7 50.9 L107.2 51.6 L105.7 52.6 L104.3 53.6 L102.9 54.7 L101.7 55.9 L100.6 57.3 L99.6 58.7 L98.6 60.3 L97.8 61.9 L97.1 63.5 L96.4 65.3 L95.9 67.1 L95.4 68.9 L94.9 70.7 L94.6 72.6 L94.3 74.5 L94.0 76.3 L93.8 78.2 L93.6 80.1 L93.5 81.9 L93.5 83.8 L93.5 85.6 L93.5 87.4 L93.5 89.2 L93.6 91.0 L93.8 92.8 L94.0 94.6 L94.2 96.4 L94.4 98.2 L94.7 100.0 L95.0 101.8 L95.3 103.5 L95.6 105.3 L95.9 107.1 L96.3 108.8 L96.7 110.6 L97.1 112.3 L97.5 114.1 L97.9 115.8 L98.4 117.6 L98.8 119.3 L99.3 121.1 L99.7 122.8 L100.2 124.6 L100.7 126.3 L101.2 128.0 L101.7 129.8 L102.2 131.5 L102.7 133.3 L103.3 135.0 L103.8 136.7 L104.4 138.5 L104.9 140.2 L105.5 141.9 L106.1 143.6 L106.7 145.3 L107.3 147.1 L107.9 148.8 L108.6 150.5 L109.2 152.2 L109.9 153.9 L110.5 155.6 L111.2 157.3 L111.9 159.0 L112.6 160.7 L113.3 162.3 L114.0 164.0 L114.7 165.7 L115.4 167.4 L116.2 169.0 L116.9 170.7 L117.7 172.4 L118.5 174.0 L119.2 175.7 L120.0 177.3 L120.8 179.0 L121.6 180.6 L122.5 182.2 L123.3 183.8 L124.1 185.5 L125.0 187.1 L125.8 188.7 L126.7 190.3 L127.6 191.9 L128.5 193.5 L129.4 195.1 L130.3 196.7 L131.2 198.2 L132.1 199.8 L133.0 201.4 L134.0 202.9 L134.9 204.5 L135.9 206.0 L136.9 207.5 L137.8 209.1 L138.8 210.6 L139.8 212.1 L140.8 213.6 L141.8 215.1 L142.9 216.6 L143.9 218.1 L144.9 219.6 L146.0 221.1 L147.0 222.5 L148.1 224.0 L149.2 225.4 L150.3 226.9 L151.4 228.3 L152.5 229.8 L153.6 231.2 L154.7 232.6 L155.8 234.0 L157.0 235.4 L158.1 236.8 L159.3 238.2 L160.5 239.6 L161.6 240.9 L162.8 242.3 L164.0 243.7 L165.2 245.0 L166.4 246.3 L167.7 247.7 L168.9 249.0 L170.1 250.3 L171.4 251.6 L172.6 252.9 L173.9 254.2 L175.2 255.5 L176.5 256.8 L177.7 258.1 L179.0 259.3 L180.4 260.6 L181.7 261.8 L183.0 263.1 L184.3 264.3 L185.7 265.5 L187.0 266.7 L188.4 267.9 L189.8 269.1 L191.2 270.3 L192.5 271.5 L193.9 272.7 L195.3 273.8 L196.8 275.0 L198.2 276.1 L199.6 277.2 L201.1 278.4 L202.5 279.5 L204.0 280.6 L205.4 281.7 L206.9 282.7 L208.4 283.8 L209.9 284.8 L211.4 285.9 L212.9 286.9 L214.4 287.9 L215.9 288.9 L217.4 289.9 L219.0 290.9 L220.5 291.8 L222.1 292.8 L223.6 293.7 L225.2 294.6 L226.8 295.5 L228.4 296.4 L230.0 297.3 L231.6 298.1 L233.2 299.0 L234.8 299.8 L236.4 300.6 L238.1 301.4 L239.7 302.1 L241.3 302.9 L243.0 303.6 L244.7 304.3 L246.3 305.0 L248.0 305.7 L249.7 306.4 L251.4 307.0 L253.1 307.6 L254.8 308.2 L256.5 308.8 L258.2 309.4 L259.9 309.9 L261.7 310.4 L263.4 310.9 L265.1 311.4 L266.9 311.9 L268.7 312.3 L270.4 312.7 L272.2 313.1 L274.0 313.5 L275.8 313.8 L277.6 314.1 L279.4 314.4 L281.2 314.7 L283.0 314.9 L284.8 315.2 L286.6 315.4 L288.5 315.5 L290.3 315.7 L292.1 315.8 L294.0 315.9" stroke="#0000ff" stroke-width="2.5" fill="none" stroke-linejoin="round"/>
<path d="M304.8 97.8 L306.7 97.7 L308.6 97.6 L310.5 97.6 L312.3 97.6 L314.2 97.6 L316.0 97.6 L317.9 97.7 L319.7 97.7 L321.5 97.9 L323.4 98.0 L325.2 98.2 L327.0 98.4 L328.8 98.6 L330.6 98.8 L332.4 99.1 L334.1 99.4 L335.9 99.7 L337.7 100.0 L339.4 100.4 L341.2 100.8 L342.9 101.2 L344.7 101.6 L346.4 102.1 L348.2 102.6 L349.9 103.0 L351.6 103.6 L353.3 104.1 L355.0 104.7 L356.7 105.2 L358.4 105.8 L360.1 106.4 L361.8 107.1 L363.5 107.7 L365.1 108.4 L366.8 109.1 L368.5 109.8 L370.1 110.5 L371.8 111.2 L373.4 112.0 L375.1 112.7 L376.7 113.5 L378.3 114.3 L380.0 115.1 L381.6 116.0 L383.2 116.8 L384.8 117.6 L386.4 118.5 L388.0 119.4 L389.6 120.3 L391.2 121.2 L392.8 122.1 L394.4 123.0 L395.9 123.9 L397.5 124.9 L399.1 125.9 L400.6 126.8 L402.2 127.8 L403.7 128.8 L405.2 129.8 L406.7 130.8 L408.3 131.9 L409.8 132.9 L411.3 134.0 L412.7 135.1 L414.2 136.1 L415.7 137.2 L417.2 138.3 L418.6 139.5 L420.0 140.6 L421.5 141.7 L422.9 142.9 L424.3 144.0 L425.7 145.2 L427.1 146.4 L428.5 147.6 L429.8 148.8 L431.2 150.0 L432.5 151.3 L433.8 152.5 L435.2 153.8 L436.5 155.0 L437.7 156.3 L439.0 157.6 L440.3 158.9 L441.5 160.2 L442.8 161.5 L444.0 162.9 L445.2 164.2 L446.4 165.6 L447.6 166.9 L448.7 168.3 L449.9 169.7 L451.0 171.1 L452.2 172.5 L453.3 173.9 L454.4 175.3 L455.5 176.7 L456.6 178.1 L457.7 179.6 L458.8 181.0 L459.9 182.5 L460.9 184.0 L462.0 185.4 L463.0 186.9 L464.0 188.4 L465.1 189.9 L466.1 191.4 L467.1 192.9 L468.1 194.4 L469.1 195.9 L470.0 197.5 L471.0 199.0 L472.0 200.5 L472.9 202.1 L473.9 203.6 L474.8 205.2 L475.8 206.7 L476.7 208.3 L477.6 209.9 L478.6 211.4 L479.5 213.0 L480.4 214.6 L481.3 216.2 L482.2 217.8 L483.1 219.3 L484.0 220.9 L484.9 222.5 L485.8 224.1 L486.6 225.7 L487.5 227.3 L488.4 229.0 L489.2 230.6 L490.1 232.2 L490.9 233.8 L491.8 235.4 L492.6 237.1 L493.4 238.7 L494.2 240.3 L495.0 242.0 L495.8 243.6 L496.6 245.3 L497.3 246.9 L498.1 248.6 L498.8 250.2 L499.6 251.9 L500.3 253.6 L501.0 255.2 L501.7 256.9 L502.4 258.6 L503.1 260.3 L503.8 262.0 L504.4 263.6 L505.1 265.3 L505.7 267.0 L506.3 268.7 L506.9 270.4 L507.5 272.2 L508.1 273.9 L508.6 275.6 L509.2 277.3 L509.7 279.0 L510.2 280.8 L510.7 282.5 L511.2 284.2 L511.7 286.0 L512.1 287.7 L512.6 289.4 L513.0 291.2 L513.4 293.0 L513.8 294.7 L514.1 296.5 L514.5 298.3 L514.8 300.0 L515.2 301.8 L515.5 303.6 L515.8 305.4 L516.1 307.2 L516.3 309.0 L516.6 310.8 L516.8 312.6 L517.1 314.4 L517.3 316.2 L517.5 318.1 L517.7 319.9 L517.9 321.7 L518.0 323.6 L518.1 325.4 L518.2 327.2 L518.2 329.1 L518.2 330.9 L518.1 332.7 L518.0 334.5 L517.8 336.4 L517.6 338.1 L517.3 339.9 L516.9 341.7 L516.4 343.5 L515.9 345.2 L515.3 346.9 L514.5 348.6 L513.7 350.3 L512.8 351.9 L511.8 353.4 L510.7 354.9 L509.5 356.3 L508.2 357.7 L506.9 358.9 L505.4 360.0 L503.8 361.0 L502.2 361.9 L500.6 362.7 L498.9 363.3 L497.3 363.7 L495.6 364.0 L493.9 364.1 L492.2 364.2 L490.4 364.1 L488.7 363.8 L487.0 363.5 L485.3 363.1 L483.6 362.6 L481.9 362.0 L480.2 361.4 L478.4 360.7 L476.7 360.0 L475.1 359.3 L473.4 358.5 L471.7 357.7 L470.0 356.9 L468.4 356.1 L466.8 355.3 L465.1 354.4 L463.5 353.5 L461.9 352.7 L460.3 351.8 L458.7 350.9 L457.1 350.0 L455.6 349.0 L454.0 348.1 L452.5 347.2 L450.9 346.2 L449.4 345.2 L447.8 344.2 L446.3 343.2 L444.8 342.2 L443.3 341.2 L441.8 340.2 L440.3 339.1 L438.9 338.1 L437.4 337.0 L435.9 336.0 L434.5 334.9 L433.0 333.8 L431.6 332.7 L430.1 331.6 L428.7 330.5 L427.3 329.3 L425.9 328.2 L424.4 327.1 L423.0 325.9 L421.6 324.8 L420.2 323.6 L418.9 322.4 L417.5 321.3 L416.1 320.1 L414.7 318.9 L413.3 317.7 L412.0 316.5 L410.6 315.3 L409.3 314.1 L407.9 312.9 L406.6 311.7 L405.2 310.4 L403.9 309.2 L402.5 308.0 L401.2 306.7 L399.9 305.5 L398.6 304.2 L397.2 303.0 L395.9 301.8 L394.6 300.5 L393.3 299.2 L392.0 298.0 L390.6 296.7 L389.3 295.5 L388.0 294.2 L386.7 292.9 L385.4 291.7 L384.1 290.4 L382.8 289.1 L381.5 287.9 L380.2 286.6 L378.9 285.3 L377.7 284.0 L376.4 282.7 L375.1 281.5 L373.8 280.2 L372.5 278.9 L371.2 277.6 L370.0 276.3 L368.7 275.0 L367.4 273.7 L366.1 272.4 L364.9 271.1 L363.6 269.8 L362.3 268.5 L361.0 267.2 L359.8 265.9 L358.5 264.6 L357.3 263.3 L356.0 262.0 L354.7 260.7 L353.5 259.4 L352.2 258.1 L351.0 256.8 L349.7 255.5 L348.4 254.2 L347.2 252.8 L345.9 251.5 L344.7 250.2 L343.4 248.9 L342.2 247.6 L340.9 246.3 L339.7 244.9 L338.5 243.6 L337.2 242.3 L336.0 241.0 L334.7 239.6 L333.5 238.3 L332.2 237.0 L331.0 235.7 L329.8 234.3 L328.5 233.0 L327.3 231.7 L326.0 230.4 L324.8 229.0 L323.6 227.7 L322.3 226.4 L321.1 225.0 L319.9 223.7 L318.6 222.4 L317.4 221.0 L316.2 219.7 L314.9 218.4 L313.7 217.0 L312.5 215.7 L311.2 214.4 L310.0 213.0 L308.8 211.7 L307.5 210.4 L306.3 209.0 L305.1 207.7 L303.8 206.4 L302.6 205.0 L301.4 203.7 L300.1 202.4 L298.9 201.0 L297.7 199.7 L296.4 198.4 L295.2 197.0 L294.0 195.7 L292.7 194.4 L291.5 193.0 L290.3 191.7 L289.0 190.4 L287.8 189.0 L286.6 187.7 L285.3 186.4 L284.1 185.0 L282.9 183.7 L281.6 182.4 L280.4 181.0 L279.2 179.7 L277.9 178.4 L276.7 177.1 L275.4 175.7 L274.2 174.4 L273.0 173.1 L271.7 171.8 L270.5 170.4 L269.2 169.1 L268.0 167.8 L266.7 166.5 L265.5 165.2 L264.2 163.8 L263.0 162.5 L261.7 161.2 L260.5 159.9 L259.2 158.6 L258.0 157.3 L256.7 155.9 L255.5 154.6 L254.2 153.3 L252.9 152.0 L251.7 150.7 L250.4 149.4 L249.2 148.1 L247.9 146.8 L246.6 145.5 L245.4 144.2 L244.1 142.9 L242.8 141.6 L241.6 140.3 L240.3 139.0 L239.0 137.7 L237.7 136.4 L236.4 135.1 L235.2 133.8 L233.9 132.5 L232.6 131.2 L231.3 130.0 L230.0 128.7 L228.7 127.4 L227.4 126.1 L226.1 124.8 L224.8 123.6 L223.5 122.3 L222.2 121.0 L220.9 119.8 L219.6 118.5 L218.3 117.2 L217.0 116.0 L215.7 114.7 L214.4 113.5 L213.1 112.2 L211.7 111.0 L210.4 109.7 L209.1 108.5 L207.8 107.2 L206.4 106.0 L205.1 104.8 L203.8 103.5 L202.4 102.3 L201.1 101.1 L199.7 99.9 L198.4 98.7 L197.0 97.5 L195.7 96.2 L194.3 95.0 L193.0 93.8 L191.6 92.6 L190.2 91.5 L188.9 90.3 L187.5 89.1 L186.1 87.9 L184.7 86.7 L183.4 85.5 L182.0 84.4 L180.6 83.2 L179.2 82.1 L177.8 80.9 L176.4 79.8 L175.0 78.6 L173.6 77.5 L172.1 76.3 L170.7 75.2 L169.3 74.1 L167.9 73.0 L166.5 71.9 L165.0 70.8 L163.6 69.7 L162.1 68.6 L160.6 67.5 L159.2 66.5 L157.7 65.4 L156.2 64.4 L154.7 63.4 L153.2 62.4 L151.6 61.5 L150.1 60.5 L148.5 59.6 L146.9 58.7 L145.4 57.9 L143.7 57.0 L142.1 56.2 L140.5 55.4 L138.8 54.7 L137.1 53.9 L135.4 53.2 L133.7 52.6 L131.9 51.9 L130.2 51.3 L128.4 50.8 L126.6 50.3 L124.8 49.8 L123.0 49.5 L121.1 49.1 L119.3 48.9 L117.5 48.8 L115.7 48.7 L114.0 48.8 L112.2 49.0 L110.5 49.3 L108.8 49.7 L107.1 50.2 L105.5 50.9 L103.9 51.6 L102.5 52.6 L101.0 53.6 L99.7 54.7 L98.5 55.9 L97.4 57.3 L96.3 58.7 L95.4 60.3 L94.6 61.9 L93.9 63.5 L93.2 65.3 L92.6 67.1 L92.1 68.9 L91.7 70.7 L91.3 72.6 L91.0 74.5 L90.8 76.3 L90.6 78.2 L90.4 80.1 L90.3 81.9 L90.2 83.8 L90.2 85.6 L90.3 87.4 L90.3 89.2 L90.4 91.0 L90.6 92.8 L90.7 94.6 L90.9 96.4 L91.2 98.2 L91.4 100.0 L91.7 101.8 L92.0 103.5 L92.4 105.3 L92.7 107.1 L93.1 108.8 L93.5 110.6 L93.9 112.3 L94.3 114.1 L94.7 115.8 L95.1 117.6 L95.6 119.3 L96.0 121.1 L96.5 122.8 L97.0 124.6 L97.5 126.3 L98.0 128.0 L98.5 129.8 L99.0 131.5 L99.5 133.3 L100.0 135.0 L100.6 136.7 L101.2 138.5 L101.7 140.2 L102.3 141.9 L102.9 143.6 L103.5 145.3 L104.1 147.1 L104.7 148.8 L105.4 150.5 L106.0 152.2 L106.6 153.9 L107.3 155.6 L108.0 157.3 L108.7 159.0 L109.4 160.7 L110.1 162.3 L110.8 164.0 L111.5 165.7 L112.2 167.4 L113.0 169.0 L113.7 170.7 L114.5 172.4 L115.2 174.0 L116.0 175.7 L116.8 177.3 L117.6 179.0 L118.4 180.6 L119.2 182.2 L120.1 183.8 L120.9 185.5 L121.8 187.1 L122.6 188.7 L123.5 190.3 L124.4 191.9 L125.2 193.5 L126.1 195.1 L127.0 196.7 L128.0 198.2 L128.9 199.8 L129.8 201.4 L130.8 202.9 L131.7 204.5 L132.7 206.0 L133.6 207.5 L134.6 209.1 L135.6 210.6 L136.6 212.1 L137.6 213.6 L138.6 215.1 L139.6 216.6 L140.7 218.1 L141.7 219.6 L142.8 221.1 L143.8 222.5 L144.9 224.0 L146.0 225.4 L147.1 226.9 L148.2 228.3 L149.3 229.8 L150.4 231.2 L151.5 232.6 L152.6 234.0 L153.8 235.4 L154.9 236.8 L156.1 238.2 L157.2 239.6 L158.4 240.9 L159.6 242.3 L160.8 243.7 L162.0 245.0 L163.2 246.3 L164.4 247.7 L165.7 249.0 L166.9 250.3 L168.2 251.6 L169.4 252.9 L170.7 254.2 L171.9 255.5 L173.2 256.8 L174.5 258.1 L175.8 259.3 L177.1 260.6 L178.5 261.8 L179.8 263.1 L181.1 264.3 L182.5 265.5 L183.8 266.7 L185.2 267.9 L186.6 269.1 L187.9 270.3 L189.3 271.5 L190.7 272.7 L192.1 273.8 L193.5 275.0 L195.0 276.1 L196.4 277.2 L197.8 278.4 L199.3 279.5 L200.7 280.6 L202.2 281.7 L203.7 282.7 L205.2 283.8 L206.7 284.8 L208.2 285.9 L209.7 286.9 L211.2 287.9 L212.7 288.9 L214.2 289.9 L215.8 290.9 L217.3 291.8 L218.9 292.8 L220.4 293.7 L222.0 294.6 L223.6 295.5 L225.2 296.4 L226.8 297.3 L228.4 298.1 L230.0 299.0 L231.6 299.8 L233.2 300.6 L234.8 301.4 L236.5 302.1 L238.1 302.9 L239.8 303.6 L241.4 304.3 L243.1 305.0 L244.8 305.7 L246.5 306.4 L248.2 307.0 L249.9 307.6 L251.6 308.2 L253.3 308.8 L255.0 309.4 L256.7 309.9 L258.4 310.4 L260.2 310.9 L261.9 311.4 L263.7 311.9 L265.4 312.3 L267.2 312.7 L269.0 313.1 L270.8 313.5 L272.5 313.8 L274.3 314.1 L276.1 314.4 L277.9 314.7 L279.8 314.9 L281.6 315.2 L283.4 315.4 L285.2 315.5 L287.1 315.7 L288.9 315.8 L290.8 315.9" stroke="#008000" stroke-width="2.5" fill="none" stroke-linejoin="round"/>
<path d="M302.0 97.8 L303.9 97.7 L305.7 97.6 L307.6 97.6 L309.5 97.6 L311.3 97.6 L313.2 97.6 L315.0 97.7 L316.8 97.7 L318.7 97.9 L320.5 98.0 L322.3 98.2 L324.1 98.4 L325.9 98.6 L327.7 98.8 L329.5 99.1 L331.3 99.4 L333.0 99.7 L334.8 100.0 L336.6 100.4 L338.3 100.8 L340.1 101.2 L341.8 101.6 L343.6 102.1 L345.3 102.6 L347.0 103.0 L348.7 103.6 L350.4 104.1 L352.2 104.7 L353.9 105.2 L355.6 105.8 L357.2 106.4 L358.9 107.1 L360.6 107.7 L362.3 108.4 L363.9 109.1 L365.6 109.8 L367.3 110.5 L368.9 111.2 L370.6 112.0 L372.2 112.7 L373.8 113.5 L375.5 114.3 L377.1 115.1 L378.7 116.0 L380.3 116.8 L381.9 117.6 L383.5 118.5 L385.1 119.4 L386.7 120.3 L388.3 121.2 L389.9 122.1 L391.5 123.0 L393.1 123.9 L394.6 124.9 L396.2 125.9 L397.7 126.8 L399.3 127.8 L400.8 128.8 L402.4 129.8 L403.9 130.8 L405.4 131.9 L406.9 132.9 L408.4 134.0 L409.9 135.1 L411.4 136.1 L412.8 137.2 L414.3 138.3 L415.7 139.5 L417.2 140.6 L418.6 141.7 L420.0 142.9 L421.4 144.0 L422.8 145.2 L424.2 146.4 L425.6 147.6 L427.0 148.8 L428.3 150.0 L429.6 151.3 L431.0 152.5 L432.3 153.8 L433.6 155.0 L434.9 156.3 L436.1 157.6 L437.4 158.9 L438.6 160.2 L439.9 161.5 L441.1 162.9 L442.3 164.2 L443.5 165.6 L444.7 166.9 L445.9 168.3 L447.0 169.7 L448.2 171.1 L449.3 172.5 L450.4 173.9 L451.6 175.3 L452.7 176.7 L453.8 178.1 L454.8 179.6 L455.9 181.0 L457.0 182.5 L458.0 184.0 L459.1 185.4 L460.1 186.9 L461.2 188.4 L462.2 189.9 L463.2 191.4 L464.2 192.9 L465.2 194.4 L466.2 195.9 L467.2 197.5 L468.1 199.0 L469.1 200.5 L470.1 202.1 L471.0 203.6 L472.0 205.2 L472.9 206.7 L473.8 208.3 L474.8 209.9 L475.7 211.4 L476.6 213.0 L477.5 214.6 L478.4 216.2 L479.3 217.8 L480.2 219.3 L481.1 220.9 L482.0 222.5 L482.9 224.1 L483.8 225.7 L484.6 227.3 L485.5 229.0 L486.4 230.6 L487.2 232.2 L488.0 233.8 L488.9 235.4 L489.7 237.1 L490.5 238.7 L491.3 240.3 L492.1 242.0 L492.9 243.6 L493.7 245.3 L494.5 246.9 L495.2 248.6 L496.0 250.2 L496.7 251.9 L497.4 253.6 L498.1 255.2 L498.9 256.9 L499.5 258.6 L500.2 260.3 L500.9 262.0 L501.5 263.6 L502.2 265.3 L502.8 267.0 L503.4 268.7 L504.0 270.4 L504.6 272.2 L505.2 273.9 L505.8 275.6 L506.3 277.3 L506.8 279.0 L507.4 280.8 L507.9 282.5 L508.3 284.2 L508.8 286.0 L509.3 287.7 L509.7 289.4 L510.1 291.2 L510.5 293.0 L510.9 294.7 L511.3 296.5 L511.6 298.3 L512.0 300.0 L512.3 301.8 L512.6 303.6 L512.9 305.4 L513.2 307.2 L513.5 309.0 L513.7 310.8 L514.0 312.6 L514.2 314.4 L514.4 316.2 L514.6 318.1 L514.8 319.9 L515.0 321.7 L515.1 323.6 L515.2 325.4 L515.3 327.2 L515.3 329.1 L515.3 330.9 L515.2 332.7 L515.1 334.5 L514.9 336.4 L514.7 338.1 L514.4 339.9 L514.0 341.7 L513.6 343.5 L513.0 345.2 L512.4 346.9 L511.7 348.6 L510.9 350.3 L510.0 351.9 L509.0 353.4 L507.9 354.9 L506.7 356.3 L505.4 357.7 L504.0 358.9 L502.5 360.0 L501.0 361.0 L499.4 361.9 L497.7 362.7 L496.1 363.3 L494.4 363.7 L492.7 364.0 L491.0 364.1 L489.3 364.2 L487.6 364.1 L485.9 363.8 L484.1 363.5 L482.4 363.1 L480.7 362.6 L479.0 362.0 L477.3 361.4 L475.6 360.7 L473.9 360.0 L472.2 359.3 L470.5 358.5 L468.8 357.7 L467.2 356.9 L465.5 356.1 L463.9 355.3 L462.3 354.4 L460.6 353.5 L459.0 352.7 L457.4 351.8 L455.8 350.9 L454.3 350.0 L452.7 349.0 L451.1 348.1 L449.6 347.2 L448.0 346.2 L446.5 345.2 L445.0 344.2 L443.5 343.2 L442.0 342.2 L440.4 341.2 L439.0 340.2 L437.5 339.1 L436.0 338.1 L434.5 337.0 L433.1 336.0 L431.6 334.9 L430.1 333.8 L428.7 332.7 L427.3 331.6 L425.8 330.5 L424.4 329.3 L423.0 328.2 L421.6 327.1 L420.2 325.9 L418.8 324.8 L417.4 323.6 L416.0 322.4 L414.6 321.3 L413.2 320.1 L411.8 318.9 L410.5 317.7 L409.1 316.5 L407.8 315.3 L406.4 314.1 L405.0 312.9 L403.7 311.7 L402.4 310.4 L401.0 309.2 L399.7 308.0 L398.3 306.7 L397.0 305.5 L395.7 304.2 L394.4 303.0 L393.0 301.8 L391.7 300.5 L390.4 299.2 L389.1 298.0 L387.8 296.7 L386.5 295.5 L385.2 294.2 L383.9 292.9 L382.6 291.7 L381.3 290.4 L380.0 289.1 L378.7 287.9 L377.4 286.6 L376.1 285.3 L374.8 284.0 L373.5 282.7 L372.2 281.5 L370.9 280.2 L369.6 278.9 L368.4 277.6 L367.1 276.3 L365.8 275.0 L364.5 273.7 L363.3 272.4 L362.0 271.1 L360.7 269.8 L359.4 268.5 L358.2 267.2 L356.9 265.9 L355.6 264.6 L354.4 263.3 L353.1 262.0 L351.9 260.7 L350.6 259.4 L349.3 258.1 L348.1 256.8 L346.8 255.5 L345.6 254.2 L344.3 252.8 L343.1 251.5 L341.8 250.2 L340.6 248.9 L339.3 247.6 L338.1 246.3 L336.8 244.9 L335.6 243.6 L334.3 242.3 L333.1 241.0 L331.9 239.6 L330.6 238.3 L329.4 237.0 L328.1 235.7 L326.9 234.3 L325.7 233.0 L324.4 231.7 L323.2 230.4 L321.9 229.0 L320.7 227.7 L319.5 226.4 L318.2 225.0 L317.0 223.7 L315.8 222.4 L314.5 221.0 L313.3 219.7 L312.1 218.4 L310.8 217.0 L309.6 215.7 L308.4 214.4 L307.1 213.0 L305.9 211.7 L304.7 210.4 L303.4 209.0 L302.2 207.7 L301.0 206.4 L299.7 205.0 L298.5 203.7 L297.3 202.4 L296.0 201.0 L294.8 199.7 L293.6 198.4 L292.3 197.0 L291.1 195.7 L289.9 194.4 L288.6 193.0 L287.4 191.7 L286.2 190.4 L284.9 189.0 L283.7 187.7 L282.5 186.4 L281.2 185.0 L280.0 183.7 L278.8 182.4 L277.5 181.0 L276.3 179.7 L275.0 178.4 L273.8 177.1 L272.6 175.7 L271.3 174.4 L270.1 173.1 L268.8 171.8 L267.6 170.4 L266.4 169.1 L265.1 167.8 L263.9 166.5 L262.6 165.2 L261.4 163.8 L260.1 162.5 L258.9 161.2 L257.6 159.9 L256.4 158.6 L255.1 157.3 L253.9 155.9 L252.6 154.6 L251.3 153.3 L250.1 152.0 L248.8 150.7 L247.6 149.4 L246.3 148.1 L245.0 146.8 L243.8 145.5 L242.5 144.2 L241.2 142.9 L240.0 141.6 L238.7 140.3 L237.4 139.0 L236.1 137.7 L234.9 136.4 L233.6 135.1 L232.3 133.8 L231.0 132.5 L229.7 131.2 L228.4 130.0 L227.1 128.7 L225.9 127.4 L224.6 126.1 L223.3 124.8 L222.0 123.6 L220.7 122.3 L219.4 121.0 L218.1 119.8 L216.8 118.5 L215.5 117.2 L214.1 116.0 L212.8 114.7 L211.5 113.5 L210.2 112.2 L208.9 111.0 L207.6 109.7 L206.2 108.5 L204.9 107.2 L203.6 106.0 L202.2 104.8 L200.9 103.5 L199.6 102.3 L198.2 101.1 L196.9 99.9 L195.5 98.7 L194.2 97.5 L192.8 96.2 L191.5 95.0 L190.1 93.8 L188.7 92.6 L187.4 91.5 L186.0 90.3 L184.6 89.1 L183.2 87.9 L181.9 86.7 L180.5 85.5 L179.1 84.4 L177.7 83.2 L176.3 82.1 L174.9 80.9 L173.5 79.8 L172.1 78.6 L170.7 77.5 L169.3 76.3 L167.9 75.2 L166.4 74.1 L165.0 73.0 L163.6 71.9 L162.1 70.8 L160.7 69.7 L159.2 68.6 L157.8 67.5 L156.3 66.5 L154.8 65.4 L153.3 64.4 L151.8 63.4 L150.3 62.4 L148.8 61.5 L147.2 60.5 L145.7 59.6 L144.1 58.7 L142.5 57.9 L140.9 57.0 L139.2 56.2 L137.6 55.4 L135.9 54.7 L134.3 53.9 L132.5 53.2 L130.8 52.6 L129.1 51.9 L127.3 51.3 L125.5 50.8 L123.7 50.3 L121.9 49.8 L120.1 49.5 L118.3 49.1 L116.5 48.9 L114.7 48.8 L112.9 48.7 L111.1 48.8 L109.3 49.0 L107.6 49.3 L105.9 49.7 L104.2 50.2 L102.6 50.9 L101.1 51.6 L99.6 52.6 L98.2 53.6 L96.8 54.7 L95.6 55.9 L94.5 57.3 L93.5 58.7 L92.6 60.3 L91.7 61.9 L91.0 63.5 L90.3 65.3 L89.8 67.1 L89.3 68.9 L88.8 70.7 L88.5 72.6 L88.2 74.5 L87.9 76.3 L87.7 78.2 L87.5 80.1 L87.4 81.9 L87.4 83.8 L87.4 85.6 L87.4 87.4 L87.5 89.2 L87.6 91.0 L87.7 92.8 L87.9 94.6 L88.1 96.4 L88.3 98.2 L88.6 100.0 L88.9 101.8 L89.2 103.5 L89.5 105.3 L89.9 107.1 L90.2 108.8 L90.6 110.6 L91.0 112.3 L91.4 114.1 L91.8 115.8 L92.3 117.6 L92.7 119.3 L93.2 121.1 L93.6 122.8 L94.1 124.6 L94.6 126.3 L95.1 128.0 L95.6 129.8 L96.1 131.5 L96.6 133.3 L97.2 135.0 L97.7 136.7 L98.3 138.5 L98.9 140.2 L99.4 141.9 L100.0 143.6 L100.6 145.3 L101.2 147.1 L101.9 148.8 L102.5 150.5 L103.1 152.2 L103.8 153.9 L104.4 155.6 L105.1 157.3 L105.8 159.0 L106.5 160.7 L107.2 162.3 L107.9 164.0 L108.6 165.7 L109.3 167.4 L110.1 169.0 L110.8 170.7 L111.6 172.4 L112.4 174.0 L113.2 175.7 L113.9 177.3 L114.7 179.0 L115.6 180.6 L116.4 182.2 L117.2 183.8 L118.0 185.5 L118.9 187.1 L119.7 188.7 L120.6 190.3 L121.5 191.9 L122.4 193.5 L123.3 195.1 L124.2 196.7 L125.1 198.2 L126.0 199.8 L126.9 201.4 L127.9 202.9 L128.8 204.5 L129.8 206.0 L130.8 207.5 L131.7 209.1 L132.7 210.6 L133.7 212.1 L134.7 213.6 L135.7 215.1 L136.8 216.6 L137.8 218.1 L138.8 219.6 L139.9 221.1 L141.0 222.5 L142.0 224.0 L143.1 225.4 L144.2 226.9 L145.3 228.3 L146.4 229.8 L147.5 231.2 L148.6 232.6 L149.8 234.0 L150.9 235.4 L152.0 236.8 L153.2 238.2 L154.4 239.6 L155.5 240.9 L156.7 242.3 L157.9 243.7 L159.1 245.0 L160.3 246.3 L161.6 247.7 L162.8 249.0 L164.0 250.3 L165.3 251.6 L166.5 252.9 L167.8 254.2 L169.1 255.5 L170.4 256.8 L171.7 258.1 L173.0 259.3 L174.3 260.6 L175.6 261.8 L176.9 263.1 L178.2 264.3 L179.6 265.5 L180.9 266.7 L182.3 267.9 L183.7 269.1 L185.1 270.3 L186.5 271.5 L187.8 272.7 L189.3 273.8 L190.7 275.0 L192.1 276.1 L193.5 277.2 L195.0 278.4 L196.4 279.5 L197.9 280.6 L199.3 281.7 L200.8 282.7 L202.3 283.8 L203.8 284.8 L205.3 285.9 L206.8 286.9 L208.3 287.9 L209.8 288.9 L211.4 289.9 L212.9 290.9 L214.4 291.8 L216.0 292.8 L217.6 293.7 L219.1 294.6 L220.7 295.5 L222.3 296.4 L223.9 297.3 L225.5 298.1 L227.1 299.0 L228.7 299.8 L230.3 300.6 L232.0 301.4 L233.6 302.1 L235.3 302.9 L236.9 303.6 L238.6 304.3 L240.2 305.0 L241.9 305.7 L243.6 306.4 L245.3 307.0 L247.0 307.6 L248.7 308.2 L250.4 308.8 L252.1 309.4 L253.8 309.9 L255.6 310.4 L257.3 310.9 L259.1 311.4 L260.8 311.9 L262.6 312.3 L264.3 312.7 L266.1 313.1 L267.9 313.5 L269.7 313.8 L271.5 314.1 L273.3 314.4 L275.1 314.7 L276.9 314.9 L278.7 315.2 L280.5 315.4 L282.4 315.5 L284.2 315.7 L286.0 315.8 L287.9 315.9" stroke="#000000" stroke-width="2.5" fill="none" stroke-linejoin="round" stroke-dasharray="8.03 8.03"/></g>
<g stroke="#505050" stroke-width="1.3"><line x1="87.4" y1="373.4" x2="87.4" y2="368.6"/><line x1="140.8" y1="373.4" x2="140.8" y2="368.6"/><line x1="194.1" y1="373.4" x2="194.1" y2="368.6"/><line x1="247.5" y1="373.4" x2="247.5" y2="368.6"/><line x1="300.9" y1="373.4" x2="300.9" y2="368.6"/><line x1="354.3" y1="373.4" x2="354.3" y2="368.6"/><line x1="407.6" y1="373.4" x2="407.6" y2="368.6"/><line x1="461.0" y1="373.4" x2="461.0" y2="368.6"/><line x1="514.4" y1="373.4" x2="514.4" y2="368.6"/><line x1="62.2" y1="351.9" x2="67.0" y2="351.9"/><line x1="62.2" y1="315.6" x2="67.0" y2="315.6"/><line x1="62.2" y1="279.2" x2="67.0" y2="279.2"/><line x1="62.2" y1="242.8" x2="67.0" y2="242.8"/><line x1="62.2" y1="206.4" x2="67.0" y2="206.4"/><line x1="62.2" y1="170.0" x2="67.0" y2="170.0"/><line x1="62.2" y1="133.7" x2="67.0" y2="133.7"/><line x1="62.2" y1="97.3" x2="67.0" y2="97.3"/><line x1="62.2" y1="60.9" x2="67.0" y2="60.9"/><line x1="62.2" y1="24.5" x2="67.0" y2="24.5"/>
<path d="M62.2 9.3 V373.4 H543.0" fill="none" stroke-linejoin="miter"/></g>
<g class="tl"><text x="87.4" y="393.2" text-anchor="middle">-0.2</text><text x="140.8" y="393.2" text-anchor="middle">-0.15</text><text x="194.1" y="393.2" text-anchor="middle">-0.1</text><text x="247.5" y="393.2" text-anchor="middle">-0.05</text><text x="300.9" y="393.2" text-anchor="middle">0</text><text x="354.3" y="393.2" text-anchor="middle">0.05</text><text x="407.6" y="393.2" text-anchor="middle">0.1</text><text x="461.0" y="393.2" text-anchor="middle">0.15</text><text x="514.4" y="393.2" text-anchor="middle">0.2</text><text x="56.1" y="357.7" text-anchor="end">-0.15</text><text x="56.1" y="321.4" text-anchor="end">-0.1</text><text x="56.1" y="285.0" text-anchor="end">-0.05</text><text x="56.1" y="248.6" text-anchor="end">0</text><text x="56.1" y="212.2" text-anchor="end">0.05</text><text x="56.1" y="175.8" text-anchor="end">0.1</text><text x="56.1" y="139.5" text-anchor="end">0.15</text><text x="56.1" y="103.1" text-anchor="end">0.2</text><text x="56.1" y="66.7" text-anchor="end">0.25</text><text x="56.1" y="30.3" text-anchor="end">0.3</text></g>
<text class="al" x="302.2" y="412.5" text-anchor="middle">x position (mm)</text>
<text class="al" transform="translate(17.8 193.2) rotate(-90)" text-anchor="middle">y position (mm)</text>
<g><rect x="192.2" y="160.2" width="54" height="68.5" fill="#fff"/><line x1="208.7" y1="160.6" x2="208.7" y2="228.3" stroke="#e3e3e3" stroke-width="1"/><line x1="208.7" y1="228.3" x2="208.7" y2="225.3" stroke="#505050" stroke-width="1"/><line x1="226.6" y1="160.6" x2="226.6" y2="228.3" stroke="#e3e3e3" stroke-width="1"/><line x1="226.6" y1="228.3" x2="226.6" y2="225.3" stroke="#505050" stroke-width="1"/><line x1="244.0" y1="160.6" x2="244.0" y2="228.3" stroke="#e3e3e3" stroke-width="1"/><line x1="244.0" y1="228.3" x2="244.0" y2="225.3" stroke="#505050" stroke-width="1"/><line x1="192.2" y1="172.1" x2="245.4" y2="177.2" stroke="#ff8000" stroke-width="2.7"/><line x1="192.2" y1="181.8" x2="245.4" y2="187.0" stroke="#000080" stroke-width="2.7"/><line x1="192.2" y1="194.6" x2="245.4" y2="199.4" stroke="#0000ff" stroke-width="2.7"/><line x1="192.2" y1="203.5" x2="245.4" y2="208.3" stroke="#008000" stroke-width="2.7"/><line x1="192.2" y1="212.9" x2="245.4" y2="217.7" stroke="#ff0000" stroke-width="2.7"/><line x1="192.2" y1="211.5" x2="245.4" y2="215.4" stroke="#000000" stroke-width="2.7" stroke-dasharray="7.5 8"/><path d="M192.2 160.6 V228.3 H245.4" fill="none" stroke="#505050" stroke-width="1.2"/><line x1="192.2" y1="173.0" x2="195.2" y2="173.0" stroke="#505050" stroke-width="1"/><rect x="158.5" y="167.5" width="31.6" height="11" fill="#fff"/><text x="189.6" y="176.8" text-anchor="end" class="it">-0.025</text><line x1="192.2" y1="184.6" x2="195.2" y2="184.6" stroke="#505050" stroke-width="1"/><rect x="164.5" y="179.1" width="25.6" height="11" fill="#fff"/><text x="189.6" y="188.4" text-anchor="end" class="it">-0.03</text><line x1="192.2" y1="196.2" x2="195.2" y2="196.2" stroke="#505050" stroke-width="1"/><rect x="158.5" y="190.7" width="31.6" height="11" fill="#fff"/><text x="189.6" y="200.0" text-anchor="end" class="it">-0.035</text><line x1="192.2" y1="208.2" x2="195.2" y2="208.2" stroke="#505050" stroke-width="1"/><rect x="164.5" y="202.7" width="25.6" height="11" fill="#fff"/><text x="189.6" y="212.0" text-anchor="end" class="it">-0.04</text><line x1="192.2" y1="219.8" x2="195.2" y2="219.8" stroke="#505050" stroke-width="1"/><rect x="158.5" y="214.3" width="31.6" height="11" fill="#fff"/><text x="189.6" y="223.6" text-anchor="end" class="it">-0.045</text><rect x="193.2" y="232.6" width="30.2" height="9.6" fill="#fff"/><text x="208.4" y="242.0" text-anchor="middle" class="it">-0.106</text></g>
<g><path d="M228.55 267.04 A13.8 25.8 3 1 0 225.85 318.56 A13.8 25.8 3 1 0 228.55 267.04" fill="none" stroke="#d95319" stroke-width="1.2" stroke-dasharray="10 5.9"/><line x1="227.3" y1="267" x2="227.3" y2="252" stroke="#d95319" stroke-width="1.2" stroke-dasharray="9.4 20"/><path d="M227.1 242.3 Q228.9 250.5 232.7 256.1 L227.1 252.6 L221.5 256.1 Q225.3 250.5 227.1 242.3 Z" fill="#d95319"/></g>
<g class="lg"><rect x="408.4" y="19.2" width="108.4" height="102.5" fill="#fff" stroke="#505050" stroke-width="1.1"/><line x1="412.6" y1="29.1" x2="453.0" y2="29.1" stroke="#ff0000" stroke-width="2.8"/><text x="456.2" y="34.1">Reference</text><line x1="412.6" y1="45.5" x2="453.0" y2="45.5" stroke="#ff8000" stroke-width="2.8"/><text x="456.2" y="50.5">Trial 1</text><line x1="412.6" y1="62.0" x2="453.0" y2="62.0" stroke="#000080" stroke-width="2.8"/><text x="456.2" y="67.0">Trial 2</text><line x1="412.6" y1="78.4" x2="453.0" y2="78.4" stroke="#0000ff" stroke-width="2.8"/><text x="456.2" y="83.4">Trial 3</text><line x1="412.6" y1="94.9" x2="453.0" y2="94.9" stroke="#008000" stroke-width="2.8"/><text x="456.2" y="99.9">Trial 4</text><line x1="412.6" y1="111.3" x2="453.0" y2="111.3" stroke="#000000" stroke-width="2.8" stroke-dasharray="8.2 7.8"/><text x="456.2" y="116.3">Final Trial</text></g>
</svg>
</body></html>
